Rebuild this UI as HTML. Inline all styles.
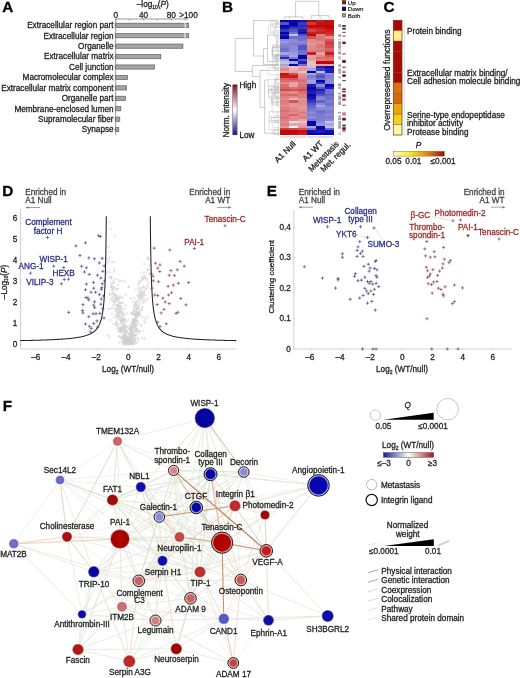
<!DOCTYPE html>
<html><head><meta charset="utf-8"><style>
html,body{margin:0;padding:0;background:#fff;}
svg{display:block;}
text{font-family:"Liberation Sans",Arial,sans-serif;stroke-width:0.28px;}
</style></head><body>
<svg width="520" height="678" viewBox="0 0 520 678">
<rect width="520" height="678" fill="#fff"/>
<text x="2.20" y="12.06" font-size="15.3" text-anchor="start" fill="#000" stroke="#000" font-weight="bold">A</text>
<text x="222.10" y="11.91" font-size="15.3" text-anchor="start" fill="#000" stroke="#000" font-weight="bold">B</text>
<text x="383.50" y="12.36" font-size="15.3" text-anchor="start" fill="#000" stroke="#000" font-weight="bold">C</text>
<text x="2.20" y="196.06" font-size="15.3" text-anchor="start" fill="#000" stroke="#000" font-weight="bold">D</text>
<text x="266.80" y="196.06" font-size="15.3" text-anchor="start" fill="#000" stroke="#000" font-weight="bold">E</text>
<text x="2.70" y="410.51" font-size="15.3" text-anchor="start" fill="#000" stroke="#000" font-weight="bold">F</text>
<text x="152.8" y="7.02" font-size="8.2" text-anchor="middle" fill="#222" stroke="#222">–log<tspan font-size="5" dy="1.5">10</tspan><tspan dy="-1.5">(</tspan><tspan font-style="italic">P</tspan>)</text>
<text x="115.70" y="17.62" font-size="8.2" text-anchor="middle" fill="#222" stroke="#222" >0</text>
<text x="143.50" y="17.62" font-size="8.2" text-anchor="middle" fill="#222" stroke="#222" >40</text>
<text x="171.30" y="17.62" font-size="8.2" text-anchor="middle" fill="#222" stroke="#222" >80</text>
<text x="188.50" y="17.62" font-size="8.2" text-anchor="middle" fill="#222" stroke="#222" >&gt;100</text>
<line x1="115.7" y1="19" x2="188" y2="19" stroke="#555" stroke-width="0.6"/>
<line x1="115.70" y1="19" x2="115.70" y2="20.5" stroke="#555" stroke-width="0.5"/>
<line x1="129.60" y1="19" x2="129.60" y2="20.5" stroke="#555" stroke-width="0.5"/>
<line x1="143.50" y1="19" x2="143.50" y2="20.5" stroke="#555" stroke-width="0.5"/>
<line x1="157.40" y1="19" x2="157.40" y2="20.5" stroke="#555" stroke-width="0.5"/>
<line x1="171.30" y1="19" x2="171.30" y2="20.5" stroke="#555" stroke-width="0.5"/>
<line x1="185.20" y1="19" x2="185.20" y2="20.5" stroke="#555" stroke-width="0.5"/>
<line x1="115.7" y1="19" x2="115.7" y2="135" stroke="#555" stroke-width="0.6"/>
<text x="113.60" y="28.12" font-size="8.2" text-anchor="end" fill="#222" stroke="#222" >Extracellular region part</text>
<rect x="115.7" y="23.20" width="73.00" height="4.2" fill="#a4a4a4" stroke="#5e5e5e" stroke-width="0.7"/>
<line x1="114.2" y1="25.30" x2="115.7" y2="25.30" stroke="#555" stroke-width="0.5"/>
<text x="113.60" y="38.55" font-size="8.2" text-anchor="end" fill="#222" stroke="#222" >Extracellular region</text>
<rect x="115.7" y="33.63" width="73.00" height="4.2" fill="#a4a4a4" stroke="#5e5e5e" stroke-width="0.7"/>
<line x1="114.2" y1="35.73" x2="115.7" y2="35.73" stroke="#555" stroke-width="0.5"/>
<text x="113.60" y="48.98" font-size="8.2" text-anchor="end" fill="#222" stroke="#222" >Organelle</text>
<rect x="115.7" y="44.06" width="67.20" height="4.2" fill="#a4a4a4" stroke="#5e5e5e" stroke-width="0.7"/>
<line x1="114.2" y1="46.16" x2="115.7" y2="46.16" stroke="#555" stroke-width="0.5"/>
<text x="113.60" y="59.41" font-size="8.2" text-anchor="end" fill="#222" stroke="#222" >Extracellular matrix</text>
<rect x="115.7" y="54.49" width="45.10" height="4.2" fill="#a4a4a4" stroke="#5e5e5e" stroke-width="0.7"/>
<line x1="114.2" y1="56.59" x2="115.7" y2="56.59" stroke="#555" stroke-width="0.5"/>
<text x="113.60" y="69.84" font-size="8.2" text-anchor="end" fill="#222" stroke="#222" >Cell junction</text>
<rect x="115.7" y="64.92" width="38.90" height="4.2" fill="#a4a4a4" stroke="#5e5e5e" stroke-width="0.7"/>
<line x1="114.2" y1="67.02" x2="115.7" y2="67.02" stroke="#555" stroke-width="0.5"/>
<text x="113.60" y="80.27" font-size="8.2" text-anchor="end" fill="#222" stroke="#222" >Macromolecular complex</text>
<rect x="115.7" y="75.35" width="11.80" height="4.2" fill="#a4a4a4" stroke="#5e5e5e" stroke-width="0.7"/>
<line x1="114.2" y1="77.45" x2="115.7" y2="77.45" stroke="#555" stroke-width="0.5"/>
<text x="113.60" y="90.70" font-size="8.2" text-anchor="end" fill="#222" stroke="#222" >Extracellular matrix component</text>
<rect x="115.7" y="85.78" width="10.80" height="4.2" fill="#a4a4a4" stroke="#5e5e5e" stroke-width="0.7"/>
<line x1="114.2" y1="87.88" x2="115.7" y2="87.88" stroke="#555" stroke-width="0.5"/>
<text x="113.60" y="101.13" font-size="8.2" text-anchor="end" fill="#222" stroke="#222" >Organelle part</text>
<rect x="115.7" y="96.21" width="9.90" height="4.2" fill="#a4a4a4" stroke="#5e5e5e" stroke-width="0.7"/>
<line x1="114.2" y1="98.31" x2="115.7" y2="98.31" stroke="#555" stroke-width="0.5"/>
<text x="113.60" y="111.56" font-size="8.2" text-anchor="end" fill="#222" stroke="#222" >Membrane-enclosed lumen</text>
<rect x="115.7" y="106.64" width="5.10" height="4.2" fill="#a4a4a4" stroke="#5e5e5e" stroke-width="0.7"/>
<line x1="114.2" y1="108.74" x2="115.7" y2="108.74" stroke="#555" stroke-width="0.5"/>
<text x="113.60" y="121.99" font-size="8.2" text-anchor="end" fill="#222" stroke="#222" >Supramolecular fiber</text>
<rect x="115.7" y="117.07" width="4.10" height="4.2" fill="#a4a4a4" stroke="#5e5e5e" stroke-width="0.7"/>
<line x1="114.2" y1="119.17" x2="115.7" y2="119.17" stroke="#555" stroke-width="0.5"/>
<text x="113.60" y="132.42" font-size="8.2" text-anchor="end" fill="#222" stroke="#222" >Synapse</text>
<rect x="115.7" y="127.50" width="3.10" height="4.2" fill="#a4a4a4" stroke="#5e5e5e" stroke-width="0.7"/>
<line x1="114.2" y1="129.60" x2="115.7" y2="129.60" stroke="#555" stroke-width="0.5"/>
<line x1="184.5" y1="22.30" x2="185.5" y2="28.30" stroke="#fff" stroke-width="0.9"/>
<line x1="184.5" y1="32.73" x2="185.5" y2="38.73" stroke="#fff" stroke-width="0.9"/>
<g shape-rendering="crispEdges">
<rect x="280.00" y="20.20" width="9.05" height="2.342" fill="#0505ac"/>
<rect x="289.00" y="20.20" width="9.05" height="2.342" fill="#0505ac"/>
<rect x="298.00" y="20.20" width="9.05" height="2.342" fill="#1111b0"/>
<rect x="307.00" y="20.20" width="9.05" height="2.342" fill="#c40505"/>
<rect x="316.00" y="20.20" width="9.05" height="2.342" fill="#c91e1e"/>
<rect x="325.00" y="20.20" width="9.05" height="2.342" fill="#c61111"/>
<rect x="280.00" y="22.49" width="9.05" height="2.342" fill="#5454c6"/>
<rect x="289.00" y="22.49" width="9.05" height="2.342" fill="#0505ac"/>
<rect x="298.00" y="22.49" width="9.05" height="2.342" fill="#3939bd"/>
<rect x="307.00" y="22.49" width="9.05" height="2.342" fill="#cf393a"/>
<rect x="316.00" y="22.49" width="9.05" height="2.342" fill="#c61111"/>
<rect x="325.00" y="22.49" width="9.05" height="2.342" fill="#c61111"/>
<rect x="280.00" y="24.78" width="9.05" height="2.342" fill="#0505ac"/>
<rect x="289.00" y="24.78" width="9.05" height="2.342" fill="#1111b0"/>
<rect x="298.00" y="24.78" width="9.05" height="2.342" fill="#2c2cb8"/>
<rect x="307.00" y="24.78" width="9.05" height="2.342" fill="#c40505"/>
<rect x="316.00" y="24.78" width="9.05" height="2.342" fill="#c40505"/>
<rect x="325.00" y="24.78" width="9.05" height="2.342" fill="#c40505"/>
<rect x="280.00" y="27.08" width="9.05" height="2.342" fill="#1111b0"/>
<rect x="289.00" y="27.08" width="9.05" height="2.342" fill="#3939bd"/>
<rect x="298.00" y="27.08" width="9.05" height="2.342" fill="#3939bd"/>
<rect x="307.00" y="27.08" width="9.05" height="2.342" fill="#c91e1e"/>
<rect x="316.00" y="27.08" width="9.05" height="2.342" fill="#c91e1e"/>
<rect x="325.00" y="27.08" width="9.05" height="2.342" fill="#c40505"/>
<rect x="280.00" y="29.37" width="9.05" height="2.342" fill="#3939bd"/>
<rect x="289.00" y="29.37" width="9.05" height="2.342" fill="#5454c6"/>
<rect x="298.00" y="29.37" width="9.05" height="2.342" fill="#1e1eb4"/>
<rect x="307.00" y="29.37" width="9.05" height="2.342" fill="#d24748"/>
<rect x="316.00" y="29.37" width="9.05" height="2.342" fill="#cc2c2c"/>
<rect x="325.00" y="29.37" width="9.05" height="2.342" fill="#c91e1e"/>
<rect x="280.00" y="31.66" width="9.05" height="2.342" fill="#0505ac"/>
<rect x="289.00" y="31.66" width="9.05" height="2.342" fill="#6f6fce"/>
<rect x="298.00" y="31.66" width="9.05" height="2.342" fill="#1111b0"/>
<rect x="307.00" y="31.66" width="9.05" height="2.342" fill="#c91e1e"/>
<rect x="316.00" y="31.66" width="9.05" height="2.342" fill="#c91e1e"/>
<rect x="325.00" y="31.66" width="9.05" height="2.342" fill="#cc2c2c"/>
<rect x="280.00" y="33.95" width="9.05" height="2.342" fill="#1e1eb4"/>
<rect x="289.00" y="33.95" width="9.05" height="2.342" fill="#c0c0e9"/>
<rect x="298.00" y="33.95" width="9.05" height="2.342" fill="#5454c6"/>
<rect x="307.00" y="33.95" width="9.05" height="2.342" fill="#c40505"/>
<rect x="316.00" y="33.95" width="9.05" height="2.342" fill="#de8284"/>
<rect x="325.00" y="33.95" width="9.05" height="2.342" fill="#d03e3f"/>
<rect x="280.00" y="36.24" width="9.05" height="2.342" fill="#0505ac"/>
<rect x="289.00" y="36.24" width="9.05" height="2.342" fill="#6f6fce"/>
<rect x="298.00" y="36.24" width="9.05" height="2.342" fill="#6f6fce"/>
<rect x="307.00" y="36.24" width="9.05" height="2.342" fill="#d45455"/>
<rect x="316.00" y="36.24" width="9.05" height="2.342" fill="#db7476"/>
<rect x="325.00" y="36.24" width="9.05" height="2.342" fill="#e18f92"/>
<rect x="280.00" y="38.54" width="9.05" height="2.342" fill="#8a8ad7"/>
<rect x="289.00" y="38.54" width="9.05" height="2.342" fill="#8a8ad7"/>
<rect x="298.00" y="38.54" width="9.05" height="2.342" fill="#6f6fce"/>
<rect x="307.00" y="38.54" width="9.05" height="2.342" fill="#e08a8c"/>
<rect x="316.00" y="38.54" width="9.05" height="2.342" fill="#db7476"/>
<rect x="325.00" y="38.54" width="9.05" height="2.342" fill="#d6595b"/>
<rect x="280.00" y="40.83" width="9.05" height="2.342" fill="#9898db"/>
<rect x="289.00" y="40.83" width="9.05" height="2.342" fill="#8a8ad7"/>
<rect x="298.00" y="40.83" width="9.05" height="2.342" fill="#8a8ad7"/>
<rect x="307.00" y="40.83" width="9.05" height="2.342" fill="#e08a8c"/>
<rect x="316.00" y="40.83" width="9.05" height="2.342" fill="#e18f92"/>
<rect x="325.00" y="40.83" width="9.05" height="2.342" fill="#d03e3f"/>
<rect x="280.00" y="43.12" width="9.05" height="2.342" fill="#8a8ad7"/>
<rect x="289.00" y="43.12" width="9.05" height="2.342" fill="#7d7dd3"/>
<rect x="298.00" y="43.12" width="9.05" height="2.342" fill="#7d7dd3"/>
<rect x="307.00" y="43.12" width="9.05" height="2.342" fill="#e2989a"/>
<rect x="316.00" y="43.12" width="9.05" height="2.342" fill="#de8284"/>
<rect x="325.00" y="43.12" width="9.05" height="2.342" fill="#d03e3f"/>
<rect x="280.00" y="45.41" width="9.05" height="2.342" fill="#7d7dd3"/>
<rect x="289.00" y="45.41" width="9.05" height="2.342" fill="#8a8ad7"/>
<rect x="298.00" y="45.41" width="9.05" height="2.342" fill="#5454c6"/>
<rect x="307.00" y="45.41" width="9.05" height="2.342" fill="#e08a8c"/>
<rect x="316.00" y="45.41" width="9.05" height="2.342" fill="#db7476"/>
<rect x="325.00" y="45.41" width="9.05" height="2.342" fill="#d34c4d"/>
<rect x="280.00" y="47.70" width="9.05" height="2.342" fill="#6f6fce"/>
<rect x="289.00" y="47.70" width="9.05" height="2.342" fill="#8a8ad7"/>
<rect x="298.00" y="47.70" width="9.05" height="2.342" fill="#5454c6"/>
<rect x="307.00" y="47.70" width="9.05" height="2.342" fill="#e08a8c"/>
<rect x="316.00" y="47.70" width="9.05" height="2.342" fill="#de8284"/>
<rect x="325.00" y="47.70" width="9.05" height="2.342" fill="#d86769"/>
<rect x="280.00" y="50.00" width="9.05" height="2.342" fill="#6f6fce"/>
<rect x="289.00" y="50.00" width="9.05" height="2.342" fill="#8a8ad7"/>
<rect x="298.00" y="50.00" width="9.05" height="2.342" fill="#6f6fce"/>
<rect x="307.00" y="50.00" width="9.05" height="2.342" fill="#dd7d7f"/>
<rect x="316.00" y="50.00" width="9.05" height="2.342" fill="#db7476"/>
<rect x="325.00" y="50.00" width="9.05" height="2.342" fill="#d6595b"/>
<rect x="280.00" y="52.29" width="9.05" height="2.342" fill="#a5a5e0"/>
<rect x="289.00" y="52.29" width="9.05" height="2.342" fill="#9898db"/>
<rect x="298.00" y="52.29" width="9.05" height="2.342" fill="#6f6fce"/>
<rect x="307.00" y="52.29" width="9.05" height="2.342" fill="#c91e1e"/>
<rect x="316.00" y="52.29" width="9.05" height="2.342" fill="#e5a5a8"/>
<rect x="325.00" y="52.29" width="9.05" height="2.342" fill="#c91e1e"/>
<rect x="280.00" y="54.58" width="9.05" height="2.342" fill="#6f6fce"/>
<rect x="289.00" y="54.58" width="9.05" height="2.342" fill="#a5a5e0"/>
<rect x="298.00" y="54.58" width="9.05" height="2.342" fill="#0505ac"/>
<rect x="307.00" y="54.58" width="9.05" height="2.342" fill="#e5a5a8"/>
<rect x="316.00" y="54.58" width="9.05" height="2.342" fill="#e08a8c"/>
<rect x="325.00" y="54.58" width="9.05" height="2.342" fill="#d45455"/>
<rect x="280.00" y="56.87" width="9.05" height="2.342" fill="#2c2cb8"/>
<rect x="289.00" y="56.87" width="9.05" height="2.342" fill="#7d7dd3"/>
<rect x="298.00" y="56.87" width="9.05" height="2.342" fill="#0505ac"/>
<rect x="307.00" y="56.87" width="9.05" height="2.342" fill="#e2989a"/>
<rect x="316.00" y="56.87" width="9.05" height="2.342" fill="#da6f71"/>
<rect x="325.00" y="56.87" width="9.05" height="2.342" fill="#da6f71"/>
<rect x="280.00" y="59.16" width="9.05" height="2.342" fill="#a5a5e0"/>
<rect x="289.00" y="59.16" width="9.05" height="2.342" fill="#0505ac"/>
<rect x="298.00" y="59.16" width="9.05" height="2.342" fill="#5454c6"/>
<rect x="307.00" y="59.16" width="9.05" height="2.342" fill="#e5a5a8"/>
<rect x="316.00" y="59.16" width="9.05" height="2.342" fill="#dd7d7f"/>
<rect x="325.00" y="59.16" width="9.05" height="2.342" fill="#da6f71"/>
<rect x="280.00" y="61.46" width="9.05" height="2.342" fill="#c0c0e9"/>
<rect x="289.00" y="61.46" width="9.05" height="2.342" fill="#a5a5e0"/>
<rect x="298.00" y="61.46" width="9.05" height="2.342" fill="#1e1eb4"/>
<rect x="307.00" y="61.46" width="9.05" height="2.342" fill="#ebc0c3"/>
<rect x="316.00" y="61.46" width="9.05" height="2.342" fill="#c40505"/>
<rect x="325.00" y="61.46" width="9.05" height="2.342" fill="#c40505"/>
<rect x="280.00" y="63.75" width="9.05" height="2.342" fill="#a5a5e0"/>
<rect x="289.00" y="63.75" width="9.05" height="2.342" fill="#0505ac"/>
<rect x="298.00" y="63.75" width="9.05" height="2.342" fill="#6f6fce"/>
<rect x="307.00" y="63.75" width="9.05" height="2.342" fill="#ebc0c3"/>
<rect x="316.00" y="63.75" width="9.05" height="2.342" fill="#e5a5a8"/>
<rect x="325.00" y="63.75" width="9.05" height="2.342" fill="#e5a5a8"/>
<rect x="280.00" y="66.04" width="9.05" height="2.342" fill="#e5a5a8"/>
<rect x="289.00" y="66.04" width="9.05" height="2.342" fill="#ebc0c3"/>
<rect x="298.00" y="66.04" width="9.05" height="2.342" fill="#e5a5a8"/>
<rect x="307.00" y="66.04" width="9.05" height="2.342" fill="#c0c0e9"/>
<rect x="316.00" y="66.04" width="9.05" height="2.342" fill="#1e1eb4"/>
<rect x="325.00" y="66.04" width="9.05" height="2.342" fill="#0505ac"/>
<rect x="280.00" y="68.33" width="9.05" height="2.342" fill="#e08a8c"/>
<rect x="289.00" y="68.33" width="9.05" height="2.342" fill="#e8b3b5"/>
<rect x="298.00" y="68.33" width="9.05" height="2.342" fill="#e2989a"/>
<rect x="307.00" y="68.33" width="9.05" height="2.342" fill="#a5a5e0"/>
<rect x="316.00" y="68.33" width="9.05" height="2.342" fill="#3939bd"/>
<rect x="325.00" y="68.33" width="9.05" height="2.342" fill="#1e1eb4"/>
<rect x="280.00" y="70.62" width="9.05" height="2.342" fill="#e5a5a8"/>
<rect x="289.00" y="70.62" width="9.05" height="2.342" fill="#e5a5a8"/>
<rect x="298.00" y="70.62" width="9.05" height="2.342" fill="#ebc0c3"/>
<rect x="307.00" y="70.62" width="9.05" height="2.342" fill="#0505ac"/>
<rect x="316.00" y="70.62" width="9.05" height="2.342" fill="#c0c0e9"/>
<rect x="325.00" y="70.62" width="9.05" height="2.342" fill="#1e1eb4"/>
<rect x="280.00" y="72.92" width="9.05" height="2.342" fill="#c61111"/>
<rect x="289.00" y="72.92" width="9.05" height="2.342" fill="#d45455"/>
<rect x="298.00" y="72.92" width="9.05" height="2.342" fill="#e2989a"/>
<rect x="307.00" y="72.92" width="9.05" height="2.342" fill="#a5a5e0"/>
<rect x="316.00" y="72.92" width="9.05" height="2.342" fill="#6f6fce"/>
<rect x="325.00" y="72.92" width="9.05" height="2.342" fill="#8a8ad7"/>
<rect x="280.00" y="75.21" width="9.05" height="2.342" fill="#c91e1e"/>
<rect x="289.00" y="75.21" width="9.05" height="2.342" fill="#c91e1e"/>
<rect x="298.00" y="75.21" width="9.05" height="2.342" fill="#e08a8c"/>
<rect x="307.00" y="75.21" width="9.05" height="2.342" fill="#7d7dd3"/>
<rect x="316.00" y="75.21" width="9.05" height="2.342" fill="#5454c6"/>
<rect x="325.00" y="75.21" width="9.05" height="2.342" fill="#7d7dd3"/>
<rect x="280.00" y="77.50" width="9.05" height="2.342" fill="#d76263"/>
<rect x="289.00" y="77.50" width="9.05" height="2.342" fill="#d45455"/>
<rect x="298.00" y="77.50" width="9.05" height="2.342" fill="#dd7d7f"/>
<rect x="307.00" y="77.50" width="9.05" height="2.342" fill="#8a8ad7"/>
<rect x="316.00" y="77.50" width="9.05" height="2.342" fill="#6f6fce"/>
<rect x="325.00" y="77.50" width="9.05" height="2.342" fill="#8a8ad7"/>
<rect x="280.00" y="79.79" width="9.05" height="2.342" fill="#da6f71"/>
<rect x="289.00" y="79.79" width="9.05" height="2.342" fill="#da6f71"/>
<rect x="298.00" y="79.79" width="9.05" height="2.342" fill="#da6f71"/>
<rect x="307.00" y="79.79" width="9.05" height="2.342" fill="#a5a5e0"/>
<rect x="316.00" y="79.79" width="9.05" height="2.342" fill="#0505ac"/>
<rect x="325.00" y="79.79" width="9.05" height="2.342" fill="#8a8ad7"/>
<rect x="280.00" y="82.08" width="9.05" height="2.342" fill="#e08a8c"/>
<rect x="289.00" y="82.08" width="9.05" height="2.342" fill="#e5a5a8"/>
<rect x="298.00" y="82.08" width="9.05" height="2.342" fill="#dd7d7f"/>
<rect x="307.00" y="82.08" width="9.05" height="2.342" fill="#9898db"/>
<rect x="316.00" y="82.08" width="9.05" height="2.342" fill="#2c2cb8"/>
<rect x="325.00" y="82.08" width="9.05" height="2.342" fill="#8a8ad7"/>
<rect x="280.00" y="84.38" width="9.05" height="2.342" fill="#da6f71"/>
<rect x="289.00" y="84.38" width="9.05" height="2.342" fill="#e5a5a8"/>
<rect x="298.00" y="84.38" width="9.05" height="2.342" fill="#da6f71"/>
<rect x="307.00" y="84.38" width="9.05" height="2.342" fill="#1e1eb4"/>
<rect x="316.00" y="84.38" width="9.05" height="2.342" fill="#8a8ad7"/>
<rect x="325.00" y="84.38" width="9.05" height="2.342" fill="#0505ac"/>
<rect x="280.00" y="86.67" width="9.05" height="2.342" fill="#d76263"/>
<rect x="289.00" y="86.67" width="9.05" height="2.342" fill="#da6f71"/>
<rect x="298.00" y="86.67" width="9.05" height="2.342" fill="#d76263"/>
<rect x="307.00" y="86.67" width="9.05" height="2.342" fill="#0505ac"/>
<rect x="316.00" y="86.67" width="9.05" height="2.342" fill="#5454c6"/>
<rect x="325.00" y="86.67" width="9.05" height="2.342" fill="#1e1eb4"/>
<rect x="280.00" y="88.96" width="9.05" height="2.342" fill="#d24748"/>
<rect x="289.00" y="88.96" width="9.05" height="2.342" fill="#d45455"/>
<rect x="298.00" y="88.96" width="9.05" height="2.342" fill="#d24748"/>
<rect x="307.00" y="88.96" width="9.05" height="2.342" fill="#1111b0"/>
<rect x="316.00" y="88.96" width="9.05" height="2.342" fill="#1e1eb4"/>
<rect x="325.00" y="88.96" width="9.05" height="2.342" fill="#6f6fce"/>
<rect x="280.00" y="91.25" width="9.05" height="2.342" fill="#dd7d7f"/>
<rect x="289.00" y="91.25" width="9.05" height="2.342" fill="#e08a8c"/>
<rect x="298.00" y="91.25" width="9.05" height="2.342" fill="#da6f71"/>
<rect x="307.00" y="91.25" width="9.05" height="2.342" fill="#1e1eb4"/>
<rect x="316.00" y="91.25" width="9.05" height="2.342" fill="#3939bd"/>
<rect x="325.00" y="91.25" width="9.05" height="2.342" fill="#6f6fce"/>
<rect x="280.00" y="93.54" width="9.05" height="2.342" fill="#da6f71"/>
<rect x="289.00" y="93.54" width="9.05" height="2.342" fill="#d76263"/>
<rect x="298.00" y="93.54" width="9.05" height="2.342" fill="#dd7d7f"/>
<rect x="307.00" y="93.54" width="9.05" height="2.342" fill="#0505ac"/>
<rect x="316.00" y="93.54" width="9.05" height="2.342" fill="#5454c6"/>
<rect x="325.00" y="93.54" width="9.05" height="2.342" fill="#6262ca"/>
<rect x="280.00" y="95.84" width="9.05" height="2.342" fill="#dd7d7f"/>
<rect x="289.00" y="95.84" width="9.05" height="2.342" fill="#e08a8c"/>
<rect x="298.00" y="95.84" width="9.05" height="2.342" fill="#dd7d7f"/>
<rect x="307.00" y="95.84" width="9.05" height="2.342" fill="#1111b0"/>
<rect x="316.00" y="95.84" width="9.05" height="2.342" fill="#7d7dd3"/>
<rect x="325.00" y="95.84" width="9.05" height="2.342" fill="#6f6fce"/>
<rect x="280.00" y="98.13" width="9.05" height="2.342" fill="#e08a8c"/>
<rect x="289.00" y="98.13" width="9.05" height="2.342" fill="#e8b3b5"/>
<rect x="298.00" y="98.13" width="9.05" height="2.342" fill="#e2989a"/>
<rect x="307.00" y="98.13" width="9.05" height="2.342" fill="#1e1eb4"/>
<rect x="316.00" y="98.13" width="9.05" height="2.342" fill="#8a8ad7"/>
<rect x="325.00" y="98.13" width="9.05" height="2.342" fill="#6f6fce"/>
<rect x="280.00" y="100.42" width="9.05" height="2.342" fill="#dd7d7f"/>
<rect x="289.00" y="100.42" width="9.05" height="2.342" fill="#d45455"/>
<rect x="298.00" y="100.42" width="9.05" height="2.342" fill="#e08a8c"/>
<rect x="307.00" y="100.42" width="9.05" height="2.342" fill="#3939bd"/>
<rect x="316.00" y="100.42" width="9.05" height="2.342" fill="#6262ca"/>
<rect x="325.00" y="100.42" width="9.05" height="2.342" fill="#7d7dd3"/>
<rect x="280.00" y="102.71" width="9.05" height="2.342" fill="#dd7d7f"/>
<rect x="289.00" y="102.71" width="9.05" height="2.342" fill="#e2989a"/>
<rect x="298.00" y="102.71" width="9.05" height="2.342" fill="#e08a8c"/>
<rect x="307.00" y="102.71" width="9.05" height="2.342" fill="#5454c6"/>
<rect x="316.00" y="102.71" width="9.05" height="2.342" fill="#8a8ad7"/>
<rect x="325.00" y="102.71" width="9.05" height="2.342" fill="#6f6fce"/>
<rect x="280.00" y="105.00" width="9.05" height="2.342" fill="#e08a8c"/>
<rect x="289.00" y="105.00" width="9.05" height="2.342" fill="#e2989a"/>
<rect x="298.00" y="105.00" width="9.05" height="2.342" fill="#e2989a"/>
<rect x="307.00" y="105.00" width="9.05" height="2.342" fill="#6262ca"/>
<rect x="316.00" y="105.00" width="9.05" height="2.342" fill="#a5a5e0"/>
<rect x="325.00" y="105.00" width="9.05" height="2.342" fill="#7d7dd3"/>
<rect x="280.00" y="107.30" width="9.05" height="2.342" fill="#dd7d7f"/>
<rect x="289.00" y="107.30" width="9.05" height="2.342" fill="#e08a8c"/>
<rect x="298.00" y="107.30" width="9.05" height="2.342" fill="#e2989a"/>
<rect x="307.00" y="107.30" width="9.05" height="2.342" fill="#6f6fce"/>
<rect x="316.00" y="107.30" width="9.05" height="2.342" fill="#8a8ad7"/>
<rect x="325.00" y="107.30" width="9.05" height="2.342" fill="#8a8ad7"/>
<rect x="280.00" y="109.59" width="9.05" height="2.342" fill="#da6f71"/>
<rect x="289.00" y="109.59" width="9.05" height="2.342" fill="#dd7d7f"/>
<rect x="298.00" y="109.59" width="9.05" height="2.342" fill="#e08a8c"/>
<rect x="307.00" y="109.59" width="9.05" height="2.342" fill="#7d7dd3"/>
<rect x="316.00" y="109.59" width="9.05" height="2.342" fill="#6f6fce"/>
<rect x="325.00" y="109.59" width="9.05" height="2.342" fill="#7d7dd3"/>
<rect x="280.00" y="111.88" width="9.05" height="2.342" fill="#dd7d7f"/>
<rect x="289.00" y="111.88" width="9.05" height="2.342" fill="#e08a8c"/>
<rect x="298.00" y="111.88" width="9.05" height="2.342" fill="#dd7d7f"/>
<rect x="307.00" y="111.88" width="9.05" height="2.342" fill="#8a8ad7"/>
<rect x="316.00" y="111.88" width="9.05" height="2.342" fill="#6f6fce"/>
<rect x="325.00" y="111.88" width="9.05" height="2.342" fill="#7d7dd3"/>
<rect x="280.00" y="114.17" width="9.05" height="2.342" fill="#dd7d7f"/>
<rect x="289.00" y="114.17" width="9.05" height="2.342" fill="#d76263"/>
<rect x="298.00" y="114.17" width="9.05" height="2.342" fill="#e08a8c"/>
<rect x="307.00" y="114.17" width="9.05" height="2.342" fill="#7d7dd3"/>
<rect x="316.00" y="114.17" width="9.05" height="2.342" fill="#7d7dd3"/>
<rect x="325.00" y="114.17" width="9.05" height="2.342" fill="#8a8ad7"/>
<rect x="280.00" y="116.46" width="9.05" height="2.342" fill="#da6f71"/>
<rect x="289.00" y="116.46" width="9.05" height="2.342" fill="#e08a8c"/>
<rect x="298.00" y="116.46" width="9.05" height="2.342" fill="#dd7d7f"/>
<rect x="307.00" y="116.46" width="9.05" height="2.342" fill="#8a8ad7"/>
<rect x="316.00" y="116.46" width="9.05" height="2.342" fill="#7d7dd3"/>
<rect x="325.00" y="116.46" width="9.05" height="2.342" fill="#7d7dd3"/>
<rect x="280.00" y="118.76" width="9.05" height="2.342" fill="#dd7d7f"/>
<rect x="289.00" y="118.76" width="9.05" height="2.342" fill="#e08a8c"/>
<rect x="298.00" y="118.76" width="9.05" height="2.342" fill="#e5a5a8"/>
<rect x="307.00" y="118.76" width="9.05" height="2.342" fill="#6f6fce"/>
<rect x="316.00" y="118.76" width="9.05" height="2.342" fill="#7d7dd3"/>
<rect x="325.00" y="118.76" width="9.05" height="2.342" fill="#8a8ad7"/>
<rect x="280.00" y="121.05" width="9.05" height="2.342" fill="#e08a8c"/>
<rect x="289.00" y="121.05" width="9.05" height="2.342" fill="#f0dbdf"/>
<rect x="298.00" y="121.05" width="9.05" height="2.342" fill="#ebc0c3"/>
<rect x="307.00" y="121.05" width="9.05" height="2.342" fill="#0505ac"/>
<rect x="316.00" y="121.05" width="9.05" height="2.342" fill="#8a8ad7"/>
<rect x="325.00" y="121.05" width="9.05" height="2.342" fill="#c0c0e9"/>
<rect x="280.00" y="123.34" width="9.05" height="2.342" fill="#dd7d7f"/>
<rect x="289.00" y="123.34" width="9.05" height="2.342" fill="#e5a5a8"/>
<rect x="298.00" y="123.34" width="9.05" height="2.342" fill="#e5a5a8"/>
<rect x="307.00" y="123.34" width="9.05" height="2.342" fill="#0505ac"/>
<rect x="316.00" y="123.34" width="9.05" height="2.342" fill="#9898db"/>
<rect x="325.00" y="123.34" width="9.05" height="2.342" fill="#a5a5e0"/>
<rect x="280.00" y="125.63" width="9.05" height="2.342" fill="#e2989a"/>
<rect x="289.00" y="125.63" width="9.05" height="2.342" fill="#f6f6fa"/>
<rect x="298.00" y="125.63" width="9.05" height="2.342" fill="#e2989a"/>
<rect x="307.00" y="125.63" width="9.05" height="2.342" fill="#a5a5e0"/>
<rect x="316.00" y="125.63" width="9.05" height="2.342" fill="#0505ac"/>
<rect x="325.00" y="125.63" width="9.05" height="2.342" fill="#c0c0e9"/>
<rect x="280.00" y="127.92" width="9.05" height="2.342" fill="#cf393a"/>
<rect x="289.00" y="127.92" width="9.05" height="2.342" fill="#d24748"/>
<rect x="298.00" y="127.92" width="9.05" height="2.342" fill="#d45455"/>
<rect x="307.00" y="127.92" width="9.05" height="2.342" fill="#6f6fce"/>
<rect x="316.00" y="127.92" width="9.05" height="2.342" fill="#0505ac"/>
<rect x="325.00" y="127.92" width="9.05" height="2.342" fill="#6262ca"/>
<rect x="280.00" y="130.22" width="9.05" height="2.342" fill="#c40505"/>
<rect x="289.00" y="130.22" width="9.05" height="2.342" fill="#c40505"/>
<rect x="298.00" y="130.22" width="9.05" height="2.342" fill="#c61111"/>
<rect x="307.00" y="130.22" width="9.05" height="2.342" fill="#1111b0"/>
<rect x="316.00" y="130.22" width="9.05" height="2.342" fill="#1e1eb4"/>
<rect x="325.00" y="130.22" width="9.05" height="2.342" fill="#1111b0"/>
<rect x="280.00" y="132.51" width="9.05" height="2.342" fill="#c40505"/>
<rect x="289.00" y="132.51" width="9.05" height="2.342" fill="#c61111"/>
<rect x="298.00" y="132.51" width="9.05" height="2.342" fill="#c91e1e"/>
<rect x="307.00" y="132.51" width="9.05" height="2.342" fill="#0505ac"/>
<rect x="316.00" y="132.51" width="9.05" height="2.342" fill="#0505ac"/>
<rect x="325.00" y="132.51" width="9.05" height="2.342" fill="#0505ac"/>
</g>
<path d="M295.6,16.9 V1.3 H318.8 V15.6 M284.5,18.9 V16.9 H302.5 V18.9 M289.5,16.9 V18.9 M311.3,18.9 V15.6 H329 V18.9 M320,15.6 V18.9" stroke="#9a9a9a" stroke-width="0.5" fill="none"/>
<path d="M253.5,38.5 H235.2 V71.5 H252.3 M253.5,20.5 V56 M253.5,20.5 H278 M253.5,56 H263.5 M263.5,48.5 V64.5 M263.5,48.5 H267.5 M267.5,35 V61.5 M263.5,64.5 H279 M252.3,65.5 V76.5 M252.3,65.5 H279 M252.3,76.5 H260.1 M260.1,70.5 V107.6 M260.1,70.5 H279 M260.1,107.6 H264.6 M264.6,80 V133.3 M264.6,80 H268.6 M264.6,133.3 H279" stroke="#9a9a9a" stroke-width="0.5" fill="none"/>
<path d="M271.9,47.3 V54.3 M271.9,47.3 H279.5 M271.9,54.3 H279.5 M268.7,89.0 V96.9 M268.7,89.0 H279.5 M268.7,96.9 H279.5 M270.7,21.7 V31.9 M270.7,21.7 H279.5 M270.7,31.9 H279.5 M272.9,46.9 V58.9 M272.9,46.9 H279.5 M272.9,58.9 H279.5 M274.7,115.6 V121.8 M274.7,115.6 H279.5 M274.7,121.8 H279.5 M277.1,37.4 V45.4 M277.1,37.4 H279.5 M277.1,45.4 H279.5 M275.0,79.8 V89.0 M275.0,79.8 H279.5 M275.0,89.0 H279.5 M274.2,27.5 V36.8 M274.2,27.5 H279.5 M274.2,36.8 H279.5 M277.1,54.5 V55.9 M277.1,54.5 H279.5 M277.1,55.9 H279.5 M277.2,74.1 V83.0 M277.2,74.1 H279.5 M277.2,83.0 H279.5 M272.1,101.6 V112.7 M272.1,101.6 H279.5 M272.1,112.7 H279.5 M277.8,111.5 V117.4 M277.8,111.5 H279.5 M277.8,117.4 H279.5 M269.4,120.4 V122.5 M269.4,120.4 H279.5 M269.4,122.5 H279.5 M272.6,44.9 V56.6 M272.6,44.9 H279.5 M272.6,56.6 H279.5 M273.3,91.6 V95.9 M273.3,91.6 H279.5 M273.3,95.9 H279.5 M274.1,64.2 V69.0 M274.1,64.2 H279.5 M274.1,69.0 H279.5 M275.2,86.8 V97.8 M275.2,86.8 H279.5 M275.2,97.8 H279.5 M278.4,126.1 V134.6 M278.4,126.1 H279.5 M278.4,134.6 H279.5 M277.0,96.7 V99.5 M277.0,96.7 H279.5 M277.0,99.5 H279.5 M274.0,130.2 V134.6 M274.0,130.2 H279.5 M274.0,134.6 H279.5 M276.7,101.6 V104.9 M276.7,101.6 H279.5 M276.7,104.9 H279.5 M268.7,85.6 V89.7 M268.7,85.6 H279.5 M268.7,89.7 H279.5 M268.9,117.5 V129.4 M268.9,117.5 H279.5 M268.9,129.4 H279.5 M269.6,111.5 V117.0 M269.6,111.5 H279.5 M269.6,117.0 H279.5 M277.2,53.7 V63.2 M277.2,53.7 H279.5 M277.2,63.2 H279.5 M268.5,25.2 V33.0 M268.5,25.2 H279.5 M268.5,33.0 H279.5 M277.2,102.1 V106.7 M277.2,102.1 H279.5 M277.2,106.7 H279.5 M278.5,132.0 V134.6 M278.5,132.0 H279.5 M278.5,134.6 H279.5 M274.3,55.5 V57.3 M274.3,55.5 H279.5 M274.3,57.3 H279.5 M272.3,23.8 V26.9 M272.3,23.8 H279.5 M272.3,26.9 H279.5 M268.4,89.8 V92.5 M268.4,89.8 H279.5 M268.4,92.5 H279.5 M278.1,119.1 V123.6 M278.1,119.1 H279.5 M278.1,123.6 H279.5 M272.8,122.4 V127.6 M272.8,122.4 H279.5 M272.8,127.6 H279.5 M274.3,79.5 V87.6 M274.3,79.5 H279.5 M274.3,87.6 H279.5 M277.9,84.0 V91.8 M277.9,84.0 H279.5 M277.9,91.8 H279.5 M275.6,78.0 V83.7 M275.6,78.0 H279.5 M275.6,83.7 H279.5 M278.3,47.3 V51.6 M278.3,47.3 H279.5 M278.3,51.6 H279.5 M268.1,79.6 V86.6 M268.1,79.6 H279.5 M268.1,86.6 H279.5 M268.2,67.5 V74.9 M268.2,67.5 H279.5 M268.2,74.9 H279.5 M268.6,90.4 V98.4 M268.6,90.4 H279.5 M268.6,98.4 H279.5 M275.1,91.7 V97.8 M275.1,91.7 H279.5 M275.1,97.8 H279.5 M275.7,60.4 V69.2 M275.7,60.4 H279.5 M275.7,69.2 H279.5 M275.1,22.7 V24.4 M275.1,22.7 H279.5 M275.1,24.4 H279.5 M272.8,130.0 V133.8 M272.8,130.0 H279.5 M272.8,133.8 H279.5 M271.8,87.8 V92.3 M271.8,87.8 H279.5 M271.8,92.3 H279.5 M274.3,55.8 V60.9 M274.3,55.8 H279.5 M274.3,60.9 H279.5 M276.1,54.4 V59.6 M276.1,54.4 H279.5 M276.1,59.6 H279.5 M275.7,23.3 V30.5 M275.7,23.3 H279.5 M275.7,30.5 H279.5 M276.4,55.5 V59.0 M276.4,55.5 H279.5 M276.4,59.0 H279.5 M272.6,47.4 V50.5 M272.6,47.4 H279.5 M272.6,50.5 H279.5 M271.4,99.8 V101.9 M271.4,99.8 H279.5 M271.4,101.9 H279.5 M272.6,58.2 V68.4 M272.6,58.2 H279.5 M272.6,68.4 H279.5 M271.5,117.7 V120.6 M271.5,117.7 H279.5 M271.5,120.6 H279.5 M272.7,94.3 V105.1 M272.7,94.3 H279.5 M272.7,105.1 H279.5 M273.6,45.9 V48.2 M273.6,45.9 H279.5 M273.6,48.2 H279.5 M276.8,42.0 V51.8 M276.8,42.0 H279.5 M276.8,51.8 H279.5 M276.5,41.1 V45.2 M276.5,41.1 H279.5 M276.5,45.2 H279.5 M271.6,93.4 V103.2 M271.6,93.4 H279.5 M271.6,103.2 H279.5 M276.3,35.0 V39.2 M276.3,35.0 H279.5 M276.3,39.2 H279.5 M272.4,51.1 V55.9 M272.4,51.1 H279.5 M272.4,55.9 H279.5" stroke="#b4b4b4" stroke-width="0.4" fill="none"/>
<path d="M267.5,35 H279 M267.5,61.5 H279" stroke="#9a9a9a" stroke-width="0.5" fill="none"/>
<defs><linearGradient id="gNI" x1="0" y1="0" x2="0" y2="1"><stop offset="0" stop-color="#8c0a14"/><stop offset="0.5" stop-color="#ffffff"/><stop offset="1" stop-color="#14148c"/></linearGradient><linearGradient id="gP" x1="0" y1="0" x2="1" y2="0"><stop offset="0" stop-color="#fffbd0"/><stop offset="0.35" stop-color="#f6e81a"/><stop offset="0.7" stop-color="#e07810"/><stop offset="1" stop-color="#9a0808"/></linearGradient><linearGradient id="gL" x1="0" y1="0" x2="1" y2="0"><stop offset="0" stop-color="#1a1a9c"/><stop offset="0.5" stop-color="#ffffff"/><stop offset="1" stop-color="#a01a1a"/></linearGradient></defs>
<rect x="232.8" y="84.8" width="4.3" height="50.1" fill="url(#gNI)" stroke="#333" stroke-width="0.4"/>
<text x="239.40" y="88.42" font-size="8.2" text-anchor="start" fill="#222" stroke="#222" >High</text>
<text x="239.40" y="138.02" font-size="8.2" text-anchor="start" fill="#222" stroke="#222" >Low</text>
<text transform="translate(229.22,110.1) rotate(-90)" font-size="8.2" text-anchor="middle" fill="#222" stroke="#222">Norm. intensity</text>
<rect x="342.0" y="0.2" width="4" height="4.2" fill="#6a2a22"/>
<rect x="342.0" y="6.7" width="4" height="4.2" fill="#12124e"/>
<rect x="342.0" y="13.2" width="4" height="4.2" fill="#857868"/>
<rect x="343.2" y="14.4" width="1.6" height="1.8" fill="#b0a898"/>
<text x="347.80" y="4.50" font-size="6.1" text-anchor="start" fill="#222" stroke="#222" style="stroke-width:0.2px">Up</text>
<text x="347.80" y="11.00" font-size="6.1" text-anchor="start" fill="#222" stroke="#222" style="stroke-width:0.2px">Down</text>
<text x="347.80" y="17.50" font-size="6.1" text-anchor="start" fill="#222" stroke="#222" style="stroke-width:0.2px">Both</text>
<rect x="338.2" y="24.2" width="2.8" height="2.8" fill="#a0a4a0"/>
<rect x="338.2" y="34.1" width="2.8" height="2.8" fill="#a8a8a8"/>
<rect x="338.2" y="38.9" width="2.8" height="1.2" fill="#c0c0c0"/>
<rect x="338.2" y="41.3" width="2.8" height="3.5" fill="#a0a4a0"/>
<rect x="338.2" y="45.1" width="2.8" height="3.5" fill="#a8a8a8"/>
<rect x="338.2" y="49.1" width="2.8" height="1.6" fill="#c0c0c0"/>
<rect x="338.2" y="51.5" width="2.8" height="2.8" fill="#9c9c9c"/>
<rect x="338.2" y="56.3" width="2.8" height="1.6" fill="#c0c0c0"/>
<rect x="338.2" y="58.2" width="2.8" height="1.2" fill="#b4b4b4"/>
<rect x="338.2" y="64.4" width="2.8" height="2.2" fill="#9c9c9c"/>
<rect x="338.2" y="68.6" width="2.8" height="2.2" fill="#a0a4a0"/>
<rect x="338.2" y="71.1" width="2.8" height="2.8" fill="#b4b4b4"/>
<rect x="338.2" y="76.6" width="2.8" height="1.6" fill="#a8a8a8"/>
<rect x="338.2" y="83.4" width="2.8" height="2.8" fill="#9c9c9c"/>
<rect x="338.2" y="87.0" width="2.8" height="2.2" fill="#b4b4b4"/>
<rect x="338.2" y="92.6" width="2.8" height="1.6" fill="#a8a8a8"/>
<rect x="338.2" y="94.5" width="2.8" height="1.2" fill="#c0c0c0"/>
<rect x="338.2" y="96.2" width="2.8" height="3.5" fill="#a0a4a0"/>
<rect x="338.2" y="100.2" width="2.8" height="1.6" fill="#c0c0c0"/>
<rect x="338.2" y="102.1" width="2.8" height="2.8" fill="#9c9c9c"/>
<rect x="338.2" y="111.9" width="2.8" height="1.6" fill="#a0a4a0"/>
<rect x="338.2" y="115.5" width="2.8" height="1.2" fill="#9c9c9c"/>
<rect x="338.2" y="117.2" width="2.8" height="2.8" fill="#a0a4a0"/>
<rect x="338.2" y="120.8" width="2.8" height="2.2" fill="#a8a8a8"/>
<rect x="338.2" y="123.3" width="2.8" height="1.6" fill="#9c9c9c"/>
<rect x="338.2" y="125.2" width="2.8" height="3.5" fill="#a0a4a0"/>
<rect x="338.2" y="132.7" width="2.8" height="2.1" fill="#c0c0c0"/>
<rect x="342.3" y="91.1" width="3.4" height="1.3" fill="#8a1020"/>
<rect x="342.3" y="112.6" width="3.4" height="1" fill="#a02030"/>
<rect x="342.3" y="41.6" width="3.4" height="2.4" fill="#8a1020"/>
<rect x="342.3" y="97.8" width="3.4" height="1.8" fill="#c08090"/>
<rect x="342.3" y="88.4" width="3.4" height="1.8" fill="#7a1020"/>
<rect x="342.3" y="31.9" width="3.4" height="0.8" fill="#401030"/>
<rect x="342.3" y="129.0" width="3.4" height="1" fill="#a02030"/>
<rect x="342.3" y="99.8" width="3.4" height="1.3" fill="#c08090"/>
<rect x="342.3" y="113.3" width="3.4" height="2.4" fill="#c08090"/>
<rect x="342.3" y="53.4" width="3.4" height="1" fill="#a02030"/>
<rect x="342.3" y="130.6" width="3.4" height="1" fill="#8a1020"/>
<rect x="342.3" y="74.4" width="3.4" height="2.4" fill="#401030"/>
<rect x="342.3" y="28.6" width="3.4" height="1" fill="#8a1020"/>
<rect x="342.3" y="104.8" width="3.4" height="0.8" fill="#2a2a6a"/>
<rect x="342.3" y="66.7" width="3.4" height="1" fill="#7a1020"/>
<rect x="342.3" y="25.5" width="3.4" height="1.3" fill="#2a2a6a"/>
<rect x="342.3" y="80.2" width="3.4" height="1" fill="#7a1020"/>
<rect x="342.3" y="61.1" width="3.4" height="1.8" fill="#2a2a6a"/>
<rect x="342.3" y="94.4" width="3.4" height="2.4" fill="#401030"/>
<rect x="342.3" y="127.2" width="3.4" height="2.4" fill="#7a1020"/>
<rect x="342.3" y="124.6" width="3.4" height="1.8" fill="#2a2a6a"/>
<rect x="342.3" y="99.4" width="3.4" height="0.8" fill="#7a1020"/>
<rect x="342.3" y="87.8" width="3.4" height="0.8" fill="#c08090"/>
<rect x="342.3" y="27.8" width="3.4" height="1.3" fill="#2a2a6a"/>
<rect x="342.3" y="35.6" width="3.4" height="0.8" fill="#7a1020"/>
<rect x="342.3" y="71.4" width="3.4" height="1.3" fill="#a02030"/>
<rect x="342.3" y="25.2" width="3.4" height="1" fill="#2a2a6a"/>
<rect x="342.3" y="60.0" width="3.4" height="1.8" fill="#7a1020"/>
<rect x="342.3" y="118.6" width="3.4" height="1.8" fill="#7a1020"/>
<rect x="342.3" y="117.8" width="3.4" height="2.4" fill="#7a1020"/>
<path d="M280.5,137 H306 M307.5,137 H333.5" stroke="#999" stroke-width="0.6"/>
<text transform="translate(292.4,140.5) rotate(-45)" font-size="8.2" text-anchor="end" fill="#222" stroke="#222" dy="5.6">A1 Null</text>
<text transform="translate(319.5,140.3) rotate(-45)" font-size="8.2" text-anchor="end" fill="#222" stroke="#222" dy="5.6">A1 WT</text>
<text transform="translate(335.4,140.6) rotate(-45)" font-size="8.2" text-anchor="end" fill="#222" stroke="#222" dy="5.6">Metastasis</text>
<text transform="translate(347.1,141.3) rotate(-45)" font-size="8.2" text-anchor="end" fill="#222" stroke="#222" dy="5.6">Met. regul.</text>
<rect x="393.2" y="20.20" width="8.8" height="10.44" fill="#a80808" stroke="#6a3a10" stroke-width="0.35"/>
<rect x="393.2" y="30.64" width="8.8" height="10.44" fill="#fbf08a" stroke="#6a3a10" stroke-width="0.35"/>
<rect x="393.2" y="41.07" width="8.8" height="10.44" fill="#a80808" stroke="#6a3a10" stroke-width="0.35"/>
<rect x="393.2" y="51.51" width="8.8" height="10.44" fill="#a80808" stroke="#6a3a10" stroke-width="0.35"/>
<rect x="393.2" y="61.95" width="8.8" height="10.44" fill="#a80808" stroke="#6a3a10" stroke-width="0.35"/>
<rect x="393.2" y="72.38" width="8.8" height="10.44" fill="#a80808" stroke="#6a3a10" stroke-width="0.35"/>
<rect x="393.2" y="82.82" width="8.8" height="10.44" fill="#de7010" stroke="#6a3a10" stroke-width="0.35"/>
<rect x="393.2" y="93.25" width="8.8" height="10.44" fill="#d86810" stroke="#6a3a10" stroke-width="0.35"/>
<rect x="393.2" y="103.69" width="8.8" height="10.44" fill="#e8a810" stroke="#6a3a10" stroke-width="0.35"/>
<rect x="393.2" y="114.13" width="8.8" height="10.44" fill="#f2d020" stroke="#6a3a10" stroke-width="0.35"/>
<rect x="393.2" y="124.56" width="8.8" height="10.44" fill="#fbf6a8" stroke="#6a3a10" stroke-width="0.35"/>
<rect x="393.2" y="20.2" width="8.8" height="114.8" fill="none" stroke="#6a4a20" stroke-width="0.5"/>
<line x1="404.3" y1="20.5" x2="404.3" y2="135" stroke="#bbb" stroke-width="0.5"/>
<text x="407.00" y="33.52" font-size="8.2" text-anchor="start" fill="#222" stroke="#222" >Protein binding</text>
<text x="407.00" y="76.22" font-size="8.2" text-anchor="start" fill="#222" stroke="#222" >Extracellular matrix binding/</text>
<text x="407.00" y="84.42" font-size="8.2" text-anchor="start" fill="#222" stroke="#222" >Cell adhesion molecule binding</text>
<text x="407.00" y="117.92" font-size="8.2" text-anchor="start" fill="#222" stroke="#222" >Serine-type endopeptidase</text>
<text x="407.00" y="126.12" font-size="8.2" text-anchor="start" fill="#222" stroke="#222" >inhibitor activity</text>
<text x="407.00" y="134.92" font-size="8.2" text-anchor="start" fill="#222" stroke="#222" >Protease binding</text>
<text transform="translate(389.96,80.2) rotate(-90)" font-size="8.6" text-anchor="middle" fill="#222" stroke="#222">Overrepresented functions</text>
<text x="418.50" y="147.52" font-size="8.2" text-anchor="middle" fill="#222" stroke="#222" ><tspan font-style="italic">P</tspan></text>
<rect x="393.5" y="151.3" width="50.8" height="4.8" fill="url(#gP)" stroke="#7a5a20" stroke-width="0.4"/>
<text x="393.50" y="164.42" font-size="8.2" text-anchor="middle" fill="#222" stroke="#222" >0.05</text>
<text x="413.30" y="164.42" font-size="8.2" text-anchor="middle" fill="#222" stroke="#222" >0.01</text>
<text x="443.10" y="164.42" font-size="8.2" text-anchor="middle" fill="#222" stroke="#222" >≤0.001</text>
<text x="25.20" y="195.32" font-size="8.2" text-anchor="start" fill="#444" stroke="#444" >Enriched in</text>
<text x="25.20" y="203.42" font-size="8.2" text-anchor="start" fill="#444" stroke="#444" >A1 Null</text>
<line x1="27.4" y1="207.5" x2="40" y2="207.5" stroke="#777" stroke-width="0.7"/>
<path d="M25.4,207.5 L28.4,206.2 L28.4,208.8 Z" fill="#777"/>
<text x="230.20" y="195.12" font-size="8.2" text-anchor="end" fill="#444" stroke="#444" >Enriched in</text>
<text x="230.20" y="203.42" font-size="8.2" text-anchor="end" fill="#444" stroke="#444" >A1 WT</text>
<line x1="216.8" y1="207.4" x2="229.4" y2="207.4" stroke="#777" stroke-width="0.7"/>
<path d="M231.4,207.4 L228.4,206.1 L228.4,208.70000000000002 Z" fill="#777"/>
<line x1="20.5" y1="209" x2="20.5" y2="349" stroke="#bdbdbd" stroke-width="0.7"/>
<line x1="20.5" y1="349" x2="236.5" y2="349" stroke="#bdbdbd" stroke-width="0.7"/>
<text x="17.40" y="347.42" font-size="8.2" text-anchor="end" fill="#222" stroke="#222" >0</text>
<line x1="20.5" y1="344.6" x2="22" y2="344.6" stroke="#bdbdbd" stroke-width="0.6"/>
<text x="17.40" y="326.32" font-size="8.2" text-anchor="end" fill="#222" stroke="#222" >1</text>
<line x1="20.5" y1="323.5" x2="22" y2="323.5" stroke="#bdbdbd" stroke-width="0.6"/>
<text x="17.40" y="305.22" font-size="8.2" text-anchor="end" fill="#222" stroke="#222" >2</text>
<line x1="20.5" y1="302.4" x2="22" y2="302.4" stroke="#bdbdbd" stroke-width="0.6"/>
<text x="17.40" y="284.12" font-size="8.2" text-anchor="end" fill="#222" stroke="#222" >3</text>
<line x1="20.5" y1="281.3" x2="22" y2="281.3" stroke="#bdbdbd" stroke-width="0.6"/>
<text x="17.40" y="263.02" font-size="8.2" text-anchor="end" fill="#222" stroke="#222" >4</text>
<line x1="20.5" y1="260.2" x2="22" y2="260.2" stroke="#bdbdbd" stroke-width="0.6"/>
<text x="17.40" y="241.92" font-size="8.2" text-anchor="end" fill="#222" stroke="#222" >5</text>
<line x1="20.5" y1="239.1" x2="22" y2="239.1" stroke="#bdbdbd" stroke-width="0.6"/>
<text x="17.40" y="220.82" font-size="8.2" text-anchor="end" fill="#222" stroke="#222" >6</text>
<line x1="20.5" y1="218.0" x2="22" y2="218.0" stroke="#bdbdbd" stroke-width="0.6"/>
<text x="35.80" y="360.42" font-size="8.2" text-anchor="middle" fill="#222" stroke="#222" >–6</text>
<line x1="37.7" y1="349" x2="37.7" y2="350.5" stroke="#bdbdbd" stroke-width="0.6"/>
<text x="66.00" y="360.42" font-size="8.2" text-anchor="middle" fill="#222" stroke="#222" >–4</text>
<line x1="67.9" y1="349" x2="67.9" y2="350.5" stroke="#bdbdbd" stroke-width="0.6"/>
<text x="96.20" y="360.42" font-size="8.2" text-anchor="middle" fill="#222" stroke="#222" >–2</text>
<line x1="98.1" y1="349" x2="98.1" y2="350.5" stroke="#bdbdbd" stroke-width="0.6"/>
<text x="128.30" y="360.42" font-size="8.2" text-anchor="middle" fill="#222" stroke="#222" >0</text>
<line x1="128.3" y1="349" x2="128.3" y2="350.5" stroke="#bdbdbd" stroke-width="0.6"/>
<text x="158.50" y="360.42" font-size="8.2" text-anchor="middle" fill="#222" stroke="#222" >2</text>
<line x1="158.5" y1="349" x2="158.5" y2="350.5" stroke="#bdbdbd" stroke-width="0.6"/>
<text x="188.70" y="360.42" font-size="8.2" text-anchor="middle" fill="#222" stroke="#222" >4</text>
<line x1="188.7" y1="349" x2="188.7" y2="350.5" stroke="#bdbdbd" stroke-width="0.6"/>
<text x="218.90" y="360.42" font-size="8.2" text-anchor="middle" fill="#222" stroke="#222" >6</text>
<line x1="218.9" y1="349" x2="218.9" y2="350.5" stroke="#bdbdbd" stroke-width="0.6"/>
<text x="128.0" y="372.02" font-size="8.2" text-anchor="middle" fill="#222" stroke="#222">Log<tspan font-size="5" dy="1.6">2</tspan><tspan dy="-1.6"> (WT/null)</tspan></text>
<text transform="translate(7.02,282) rotate(-90)" font-size="8.2" text-anchor="middle" fill="#222" stroke="#222">–Log<tspan font-size="4.6" dy="1.3">10</tspan><tspan dy="-1.3">(</tspan><tspan font-style="italic">P</tspan>)</text>
<path d="M115.9,319.7h2.8M117.3,318.3v2.8M133.2,339.0h2.8M134.6,337.6v2.8M128.9,342.4h2.8M130.3,341.0v2.8M105.0,258.7h2.8M106.4,257.3v2.8M115.0,323.0h2.8M116.4,321.6v2.8M134.9,309.6h2.8M136.3,308.2v2.8M127.2,333.3h2.8M128.6,331.9v2.8M125.5,342.7h2.8M126.9,341.3v2.8M123.1,308.7h2.8M124.5,307.3v2.8M127.4,338.6h2.8M128.8,337.2v2.8M135.2,304.4h2.8M136.6,303.0v2.8M127.3,338.1h2.8M128.7,336.7v2.8M128.5,334.7h2.8M129.9,333.3v2.8M145.8,278.9h2.8M147.2,277.5v2.8M121.1,297.7h2.8M122.5,296.3v2.8M113.2,300.6h2.8M114.6,299.2v2.8M133.1,298.3h2.8M134.5,296.9v2.8M118.0,342.8h2.8M119.4,341.4v2.8M133.1,331.1h2.8M134.5,329.7v2.8M123.3,329.5h2.8M124.7,328.1v2.8M129.0,337.4h2.8M130.4,336.0v2.8M122.9,318.3h2.8M124.3,316.9v2.8M141.0,294.3h2.8M142.4,292.9v2.8M122.7,324.1h2.8M124.1,322.7v2.8M131.4,343.7h2.8M132.8,342.3v2.8M122.6,320.1h2.8M124.0,318.7v2.8M126.0,337.4h2.8M127.4,336.0v2.8M142.3,286.8h2.8M143.7,285.4v2.8M127.9,338.7h2.8M129.3,337.3v2.8M118.7,305.9h2.8M120.1,304.5v2.8M129.8,337.5h2.8M131.2,336.1v2.8M136.7,284.9h2.8M138.1,283.5v2.8M132.1,310.5h2.8M133.5,309.1v2.8M147.1,283.1h2.8M148.5,281.7v2.8M122.0,321.0h2.8M123.4,319.6v2.8M110.9,290.5h2.8M112.3,289.1v2.8M139.0,290.2h2.8M140.4,288.8v2.8M132.3,343.9h2.8M133.7,342.5v2.8M130.8,335.7h2.8M132.2,334.3v2.8M120.0,308.7h2.8M121.4,307.3v2.8M134.3,325.5h2.8M135.7,324.1v2.8M137.3,315.4h2.8M138.7,314.0v2.8M123.8,327.5h2.8M125.2,326.1v2.8M128.6,338.2h2.8M130.0,336.8v2.8M135.4,301.9h2.8M136.8,300.5v2.8M132.5,327.6h2.8M133.9,326.2v2.8M135.2,328.6h2.8M136.6,327.2v2.8M124.9,339.9h2.8M126.3,338.5v2.8M139.4,294.8h2.8M140.8,293.4v2.8M117.7,317.1h2.8M119.1,315.7v2.8M128.4,340.5h2.8M129.8,339.1v2.8M125.7,343.3h2.8M127.1,341.9v2.8M127.6,339.8h2.8M129.0,338.4v2.8M122.6,338.3h2.8M124.0,336.9v2.8M129.0,335.2h2.8M130.4,333.8v2.8M120.4,338.2h2.8M121.8,336.8v2.8M137.3,296.4h2.8M138.7,295.0v2.8M125.4,340.8h2.8M126.8,339.4v2.8M128.0,343.2h2.8M129.4,341.8v2.8M136.1,338.2h2.8M137.5,336.8v2.8M146.4,258.1h2.8M147.8,256.7v2.8M123.6,343.6h2.8M125.0,342.2v2.8M126.9,338.1h2.8M128.3,336.7v2.8M143.1,299.8h2.8M144.5,298.4v2.8M139.5,297.7h2.8M140.9,296.3v2.8M112.7,304.2h2.8M114.1,302.8v2.8M113.3,308.6h2.8M114.7,307.2v2.8M138.0,308.9h2.8M139.4,307.5v2.8M137.5,305.9h2.8M138.9,304.5v2.8M112.7,301.7h2.8M114.1,300.3v2.8M148.6,274.3h2.8M150.0,272.9v2.8M116.9,295.9h2.8M118.3,294.5v2.8M127.8,341.0h2.8M129.2,339.6v2.8M140.9,288.3h2.8M142.3,286.9v2.8M114.6,298.2h2.8M116.0,296.8v2.8M118.6,328.8h2.8M120.0,327.4v2.8M114.9,297.4h2.8M116.3,296.0v2.8M119.2,306.5h2.8M120.6,305.1v2.8M111.1,300.2h2.8M112.5,298.8v2.8M123.8,344.0h2.8M125.2,342.6v2.8M125.9,330.7h2.8M127.3,329.3v2.8M108.0,294.0h2.8M109.4,292.6v2.8M128.9,343.0h2.8M130.3,341.6v2.8M112.0,288.7h2.8M113.4,287.3v2.8M114.8,308.4h2.8M116.2,307.0v2.8M118.5,330.7h2.8M119.9,329.3v2.8M115.6,317.3h2.8M117.0,315.9v2.8M115.6,298.5h2.8M117.0,297.1v2.8M127.9,342.7h2.8M129.3,341.3v2.8M131.8,336.4h2.8M133.2,335.0v2.8M114.7,289.4h2.8M116.1,288.0v2.8M129.6,337.7h2.8M131.0,336.3v2.8M130.0,330.2h2.8M131.4,328.8v2.8M133.0,322.3h2.8M134.4,320.9v2.8M132.5,314.7h2.8M133.9,313.3v2.8M129.2,340.1h2.8M130.6,338.7v2.8M135.7,313.1h2.8M137.1,311.7v2.8M147.1,259.5h2.8M148.5,258.1v2.8M126.9,343.4h2.8M128.3,342.0v2.8M136.4,307.0h2.8M137.8,305.6v2.8M119.0,302.9h2.8M120.4,301.5v2.8M129.8,325.6h2.8M131.2,324.2v2.8M133.5,331.6h2.8M134.9,330.2v2.8M137.4,288.0h2.8M138.8,286.6v2.8M122.4,339.7h2.8M123.8,338.3v2.8M135.2,321.1h2.8M136.6,319.7v2.8M130.7,337.5h2.8M132.1,336.1v2.8M120.1,307.0h2.8M121.5,305.6v2.8M124.3,344.2h2.8M125.7,342.8v2.8M142.8,275.9h2.8M144.2,274.5v2.8M134.5,324.5h2.8M135.9,323.1v2.8M123.5,341.6h2.8M124.9,340.2v2.8M112.6,301.3h2.8M114.0,299.9v2.8M129.7,341.5h2.8M131.1,340.1v2.8M121.9,337.0h2.8M123.3,335.6v2.8M122.8,319.5h2.8M124.2,318.1v2.8M125.6,337.3h2.8M127.0,335.9v2.8M131.1,342.4h2.8M132.5,341.0v2.8M127.3,339.8h2.8M128.7,338.4v2.8M127.6,338.7h2.8M129.0,337.3v2.8M129.6,337.5h2.8M131.0,336.1v2.8M125.5,337.7h2.8M126.9,336.3v2.8M125.4,341.2h2.8M126.8,339.8v2.8M120.0,323.1h2.8M121.4,321.7v2.8M132.3,318.4h2.8M133.7,317.0v2.8M126.4,339.7h2.8M127.8,338.3v2.8M120.2,338.4h2.8M121.6,337.0v2.8M117.5,298.3h2.8M118.9,296.9v2.8M137.6,312.2h2.8M139.0,310.8v2.8M137.9,311.6h2.8M139.3,310.2v2.8M133.6,335.7h2.8M135.0,334.3v2.8M124.9,340.1h2.8M126.3,338.7v2.8M138.8,294.6h2.8M140.2,293.2v2.8M128.5,338.0h2.8M129.9,336.6v2.8M132.6,328.7h2.8M134.0,327.3v2.8M126.4,340.2h2.8M127.8,338.8v2.8M117.2,315.7h2.8M118.6,314.3v2.8M114.1,325.1h2.8M115.5,323.7v2.8M129.2,338.2h2.8M130.6,336.8v2.8M133.1,322.0h2.8M134.5,320.6v2.8M134.3,318.3h2.8M135.7,316.9v2.8M123.9,327.9h2.8M125.3,326.5v2.8M114.5,310.0h2.8M115.9,308.6v2.8M130.1,331.8h2.8M131.5,330.4v2.8M106.7,263.0h2.8M108.1,261.6v2.8M135.2,329.7h2.8M136.6,328.3v2.8M123.6,339.3h2.8M125.0,337.9v2.8M131.6,343.7h2.8M133.0,342.3v2.8M118.1,312.4h2.8M119.5,311.0v2.8M144.1,278.3h2.8M145.5,276.9v2.8M113.6,279.2h2.8M115.0,277.8v2.8M129.3,298.5h2.8M130.7,297.1v2.8M122.4,332.7h2.8M123.8,331.3v2.8M124.1,333.5h2.8M125.5,332.1v2.8M121.4,339.2h2.8M122.8,337.8v2.8M108.6,272.1h2.8M110.0,270.7v2.8M132.7,320.7h2.8M134.1,319.3v2.8M124.3,343.1h2.8M125.7,341.7v2.8M120.7,327.5h2.8M122.1,326.1v2.8M125.0,332.5h2.8M126.4,331.1v2.8M132.6,323.1h2.8M134.0,321.7v2.8M128.3,338.1h2.8M129.7,336.7v2.8M119.9,313.6h2.8M121.3,312.2v2.8M134.3,326.4h2.8M135.7,325.0v2.8M138.5,331.4h2.8M139.9,330.0v2.8M128.3,339.3h2.8M129.7,337.9v2.8M129.2,330.6h2.8M130.6,329.2v2.8M137.7,333.0h2.8M139.1,331.6v2.8M126.1,342.3h2.8M127.5,340.9v2.8M122.5,340.3h2.8M123.9,338.9v2.8M124.6,340.0h2.8M126.0,338.6v2.8M115.6,299.8h2.8M117.0,298.4v2.8M132.0,342.3h2.8M133.4,340.9v2.8M138.0,298.4h2.8M139.4,297.0v2.8M140.3,300.2h2.8M141.7,298.8v2.8M123.6,338.8h2.8M125.0,337.4v2.8M123.3,324.1h2.8M124.7,322.7v2.8M135.8,313.0h2.8M137.2,311.6v2.8M146.0,285.5h2.8M147.4,284.1v2.8M127.9,344.1h2.8M129.3,342.7v2.8M124.7,341.0h2.8M126.1,339.6v2.8M123.8,320.3h2.8M125.2,318.9v2.8M145.6,280.3h2.8M147.0,278.9v2.8M120.9,302.4h2.8M122.3,301.0v2.8M143.6,295.4h2.8M145.0,294.0v2.8M112.0,281.0h2.8M113.4,279.6v2.8M137.0,315.2h2.8M138.4,313.8v2.8M132.3,335.9h2.8M133.7,334.5v2.8M138.1,312.5h2.8M139.5,311.1v2.8M134.4,305.6h2.8M135.8,304.2v2.8M140.2,310.1h2.8M141.6,308.7v2.8M113.3,317.5h2.8M114.7,316.1v2.8M134.3,335.7h2.8M135.7,334.3v2.8M125.5,341.4h2.8M126.9,340.0v2.8M120.1,320.1h2.8M121.5,318.7v2.8M128.3,342.5h2.8M129.7,341.1v2.8M129.4,328.9h2.8M130.8,327.5v2.8M120.0,322.4h2.8M121.4,321.0v2.8M126.6,339.9h2.8M128.0,338.5v2.8M130.6,343.5h2.8M132.0,342.1v2.8M131.4,327.5h2.8M132.8,326.1v2.8M131.5,339.4h2.8M132.9,338.0v2.8M133.4,318.8h2.8M134.8,317.4v2.8M123.2,334.9h2.8M124.6,333.5v2.8M134.4,314.8h2.8M135.8,313.4v2.8M133.4,322.4h2.8M134.8,321.0v2.8M137.6,281.9h2.8M139.0,280.5v2.8M131.2,339.4h2.8M132.6,338.0v2.8M143.1,292.6h2.8M144.5,291.2v2.8M117.5,307.3h2.8M118.9,305.9v2.8M125.3,339.5h2.8M126.7,338.1v2.8M120.1,323.7h2.8M121.5,322.3v2.8M121.4,326.7h2.8M122.8,325.3v2.8M128.9,340.5h2.8M130.3,339.1v2.8M130.6,341.6h2.8M132.0,340.2v2.8M141.6,297.3h2.8M143.0,295.9v2.8M136.6,315.3h2.8M138.0,313.9v2.8M141.8,293.1h2.8M143.2,291.7v2.8M121.4,326.7h2.8M122.8,325.3v2.8M140.9,279.6h2.8M142.3,278.2v2.8M122.0,344.1h2.8M123.4,342.7v2.8M137.7,288.8h2.8M139.1,287.4v2.8M133.0,328.5h2.8M134.4,327.1v2.8M128.4,340.6h2.8M129.8,339.2v2.8M118.4,319.3h2.8M119.8,317.9v2.8M130.3,313.5h2.8M131.7,312.1v2.8M135.6,342.7h2.8M137.0,341.3v2.8M128.1,336.0h2.8M129.5,334.6v2.8M129.2,328.8h2.8M130.6,327.4v2.8M129.8,329.2h2.8M131.2,327.8v2.8M129.6,343.8h2.8M131.0,342.4v2.8M131.3,301.8h2.8M132.7,300.4v2.8M132.7,320.4h2.8M134.1,319.0v2.8M137.0,321.8h2.8M138.4,320.4v2.8M133.5,314.6h2.8M134.9,313.2v2.8M131.0,321.7h2.8M132.4,320.3v2.8M134.2,306.8h2.8M135.6,305.4v2.8M120.9,320.8h2.8M122.3,319.4v2.8M121.8,314.9h2.8M123.2,313.5v2.8M128.2,341.6h2.8M129.6,340.2v2.8M127.9,337.8h2.8M129.3,336.4v2.8M116.2,312.4h2.8M117.6,311.0v2.8M136.5,308.3h2.8M137.9,306.9v2.8M121.0,318.6h2.8M122.4,317.2v2.8M132.3,311.1h2.8M133.7,309.7v2.8M135.3,312.2h2.8M136.7,310.8v2.8M119.5,317.3h2.8M120.9,315.9v2.8M129.7,337.8h2.8M131.1,336.4v2.8M130.8,342.5h2.8M132.2,341.1v2.8M132.2,311.7h2.8M133.6,310.3v2.8M132.4,320.4h2.8M133.8,319.0v2.8M128.8,343.5h2.8M130.2,342.1v2.8M135.7,323.7h2.8M137.1,322.3v2.8M130.8,333.7h2.8M132.2,332.3v2.8M115.0,289.5h2.8M116.4,288.1v2.8M118.6,316.0h2.8M120.0,314.6v2.8M114.7,321.8h2.8M116.1,320.4v2.8M133.0,341.4h2.8M134.4,340.0v2.8M107.6,277.1h2.8M109.0,275.7v2.8M112.5,295.8h2.8M113.9,294.4v2.8M143.9,288.0h2.8M145.3,286.6v2.8M130.2,329.5h2.8M131.6,328.1v2.8M129.2,341.4h2.8M130.6,340.0v2.8M140.9,295.9h2.8M142.3,294.5v2.8M130.2,334.8h2.8M131.6,333.4v2.8M115.0,299.4h2.8M116.4,298.0v2.8M127.4,339.4h2.8M128.8,338.0v2.8M133.3,306.1h2.8M134.7,304.7v2.8M109.3,287.5h2.8M110.7,286.1v2.8M122.5,341.9h2.8M123.9,340.5v2.8M130.7,335.0h2.8M132.1,333.6v2.8M128.2,339.1h2.8M129.6,337.7v2.8M118.0,302.9h2.8M119.4,301.5v2.8M133.4,315.2h2.8M134.8,313.8v2.8M139.9,324.9h2.8M141.3,323.5v2.8M134.2,319.0h2.8M135.6,317.6v2.8M122.4,342.0h2.8M123.8,340.6v2.8M145.9,287.9h2.8M147.3,286.5v2.8M129.3,337.7h2.8M130.7,336.3v2.8M132.7,340.0h2.8M134.1,338.6v2.8M121.9,312.5h2.8M123.3,311.1v2.8M137.3,312.2h2.8M138.7,310.8v2.8M128.4,340.1h2.8M129.8,338.7v2.8M126.6,338.0h2.8M128.0,336.6v2.8M121.9,335.9h2.8M123.3,334.5v2.8M131.0,334.5h2.8M132.4,333.1v2.8M133.1,335.1h2.8M134.5,333.7v2.8M123.5,335.8h2.8M124.9,334.4v2.8M119.9,327.3h2.8M121.3,325.9v2.8M132.6,304.9h2.8M134.0,303.5v2.8M124.9,331.8h2.8M126.3,330.4v2.8M116.4,313.6h2.8M117.8,312.2v2.8M129.9,330.5h2.8M131.3,329.1v2.8M117.4,305.6h2.8M118.8,304.2v2.8M128.2,328.6h2.8M129.6,327.2v2.8M135.6,309.3h2.8M137.0,307.9v2.8M123.2,331.8h2.8M124.6,330.4v2.8M119.0,327.8h2.8M120.4,326.4v2.8M109.9,298.3h2.8M111.3,296.9v2.8M115.2,304.9h2.8M116.6,303.5v2.8M127.8,342.9h2.8M129.2,341.5v2.8M126.0,344.0h2.8M127.4,342.6v2.8M132.1,333.0h2.8M133.5,331.6v2.8M135.4,334.0h2.8M136.8,332.6v2.8M129.1,338.5h2.8M130.5,337.1v2.8M142.7,272.4h2.8M144.1,271.0v2.8M120.3,330.3h2.8M121.7,328.9v2.8M116.7,306.4h2.8M118.1,305.0v2.8M118.4,330.8h2.8M119.8,329.4v2.8M119.1,328.1h2.8M120.5,326.7v2.8M125.8,340.3h2.8M127.2,338.9v2.8M128.8,338.9h2.8M130.2,337.5v2.8M136.6,313.7h2.8M138.0,312.3v2.8M119.1,310.4h2.8M120.5,309.0v2.8M123.7,337.4h2.8M125.1,336.0v2.8M123.4,334.9h2.8M124.8,333.5v2.8M113.0,271.4h2.8M114.4,270.0v2.8M121.6,336.8h2.8M123.0,335.4v2.8M110.4,286.5h2.8M111.8,285.1v2.8M114.1,295.9h2.8M115.5,294.5v2.8M137.8,300.1h2.8M139.2,298.7v2.8M122.7,318.3h2.8M124.1,316.9v2.8M125.0,342.4h2.8M126.4,341.0v2.8M127.3,339.6h2.8M128.7,338.2v2.8M130.6,313.9h2.8M132.0,312.5v2.8M114.8,310.9h2.8M116.2,309.5v2.8M120.8,311.8h2.8M122.2,310.4v2.8M135.9,331.4h2.8M137.3,330.0v2.8M122.0,342.7h2.8M123.4,341.3v2.8M140.8,298.5h2.8M142.2,297.1v2.8M133.8,340.0h2.8M135.2,338.6v2.8M113.0,287.4h2.8M114.4,286.0v2.8M138.4,303.7h2.8M139.8,302.3v2.8M120.3,309.5h2.8M121.7,308.1v2.8M131.5,319.5h2.8M132.9,318.1v2.8M110.1,285.8h2.8M111.5,284.4v2.8M117.3,324.5h2.8M118.7,323.1v2.8M132.1,320.7h2.8M133.5,319.3v2.8M122.4,334.7h2.8M123.8,333.3v2.8M139.4,293.4h2.8M140.8,292.0v2.8M125.6,338.3h2.8M127.0,336.9v2.8M127.8,342.9h2.8M129.2,341.5v2.8M122.0,324.4h2.8M123.4,323.0v2.8M138.6,314.6h2.8M140.0,313.2v2.8M115.5,305.6h2.8M116.9,304.2v2.8M123.6,337.5h2.8M125.0,336.1v2.8M128.6,339.7h2.8M130.0,338.3v2.8M143.5,277.6h2.8M144.9,276.2v2.8M123.9,340.9h2.8M125.3,339.5v2.8M109.9,277.5h2.8M111.3,276.1v2.8M130.5,332.0h2.8M131.9,330.6v2.8M130.3,326.3h2.8M131.7,324.9v2.8M137.5,292.8h2.8M138.9,291.4v2.8M136.6,313.6h2.8M138.0,312.2v2.8M109.7,276.8h2.8M111.1,275.4v2.8M112.9,269.3h2.8M114.3,267.9v2.8M116.1,328.6h2.8M117.5,327.2v2.8M109.7,278.6h2.8M111.1,277.2v2.8M129.5,331.4h2.8M130.9,330.0v2.8M129.4,339.4h2.8M130.8,338.0v2.8M134.3,320.8h2.8M135.7,319.4v2.8M123.0,341.6h2.8M124.4,340.2v2.8M133.6,311.5h2.8M135.0,310.1v2.8M135.4,328.6h2.8M136.8,327.2v2.8M137.0,339.8h2.8M138.4,338.4v2.8M127.6,342.0h2.8M129.0,340.6v2.8M125.7,343.0h2.8M127.1,341.6v2.8M112.0,293.1h2.8M113.4,291.7v2.8M131.4,342.4h2.8M132.8,341.0v2.8M128.1,341.5h2.8M129.5,340.1v2.8M106.0,272.0h2.8M107.4,270.6v2.8M137.5,314.6h2.8M138.9,313.2v2.8M111.3,297.5h2.8M112.7,296.1v2.8M123.3,340.6h2.8M124.7,339.2v2.8M142.4,277.6h2.8M143.8,276.2v2.8M129.9,335.8h2.8M131.3,334.4v2.8M140.7,287.4h2.8M142.1,286.0v2.8M130.2,325.2h2.8M131.6,323.8v2.8M133.0,311.1h2.8M134.4,309.7v2.8M125.8,343.5h2.8M127.2,342.1v2.8M141.2,306.9h2.8M142.6,305.5v2.8M140.3,277.4h2.8M141.7,276.0v2.8M127.4,342.4h2.8M128.8,341.0v2.8M128.2,340.6h2.8M129.6,339.2v2.8M129.3,331.9h2.8M130.7,330.5v2.8M129.1,328.2h2.8M130.5,326.8v2.8M125.3,342.2h2.8M126.7,340.8v2.8M127.6,329.2h2.8M129.0,327.8v2.8M122.9,337.3h2.8M124.3,335.9v2.8M126.7,341.2h2.8M128.1,339.8v2.8M137.0,330.7h2.8M138.4,329.3v2.8M115.7,315.9h2.8M117.1,314.5v2.8M116.4,305.9h2.8M117.8,304.5v2.8M127.4,338.1h2.8M128.8,336.7v2.8M117.3,300.1h2.8M118.7,298.7v2.8M108.4,309.0h2.8M109.8,307.6v2.8M107.2,260.9h2.8M108.6,259.5v2.8M140.0,325.9h2.8M141.4,324.5v2.8M138.7,295.5h2.8M140.1,294.1v2.8M126.7,340.9h2.8M128.1,339.5v2.8M130.4,339.2h2.8M131.8,337.8v2.8M140.4,291.9h2.8M141.8,290.5v2.8M130.9,337.9h2.8M132.3,336.5v2.8M127.9,338.0h2.8M129.3,336.6v2.8M140.5,295.9h2.8M141.9,294.5v2.8M128.6,328.3h2.8M130.0,326.9v2.8M105.9,273.2h2.8M107.3,271.8v2.8M123.9,335.3h2.8M125.3,333.9v2.8M147.9,265.5h2.8M149.3,264.1v2.8M126.0,340.5h2.8M127.4,339.1v2.8M136.0,315.9h2.8M137.4,314.5v2.8M142.5,302.9h2.8M143.9,301.5v2.8M138.5,296.2h2.8M139.9,294.8v2.8M136.1,295.5h2.8M137.5,294.1v2.8M124.6,335.3h2.8M126.0,333.9v2.8M129.3,341.6h2.8M130.7,340.2v2.8M119.8,336.6h2.8M121.2,335.2v2.8M128.6,333.8h2.8M130.0,332.4v2.8M125.4,340.4h2.8M126.8,339.0v2.8M123.8,337.8h2.8M125.2,336.4v2.8M121.9,344.1h2.8M123.3,342.7v2.8M128.6,340.6h2.8M130.0,339.2v2.8M117.2,327.6h2.8M118.6,326.2v2.8M126.6,340.7h2.8M128.0,339.3v2.8M123.8,325.9h2.8M125.2,324.5v2.8M129.1,341.7h2.8M130.5,340.3v2.8M128.5,339.6h2.8M129.9,338.2v2.8M136.7,301.3h2.8M138.1,299.9v2.8M122.8,337.7h2.8M124.2,336.3v2.8M124.1,305.3h2.8M125.5,303.9v2.8M118.2,317.8h2.8M119.6,316.4v2.8M132.3,324.0h2.8M133.7,322.6v2.8M125.3,340.5h2.8M126.7,339.1v2.8M131.7,342.1h2.8M133.1,340.7v2.8M140.6,316.9h2.8M142.0,315.5v2.8M121.3,320.2h2.8M122.7,318.8v2.8M133.5,338.3h2.8M134.9,336.9v2.8M127.3,343.8h2.8M128.7,342.4v2.8M136.8,306.0h2.8M138.2,304.6v2.8M128.4,337.4h2.8M129.8,336.0v2.8M131.3,332.8h2.8M132.7,331.4v2.8M134.4,316.0h2.8M135.8,314.6v2.8M111.9,292.7h2.8M113.3,291.3v2.8M144.4,289.5h2.8M145.8,288.1v2.8M120.3,329.5h2.8M121.7,328.1v2.8M121.8,331.3h2.8M123.2,329.9v2.8M146.0,298.4h2.8M147.4,297.0v2.8M134.4,317.2h2.8M135.8,315.8v2.8M131.5,313.3h2.8M132.9,311.9v2.8M131.8,331.4h2.8M133.2,330.0v2.8M126.4,326.1h2.8M127.8,324.7v2.8M131.6,343.9h2.8M133.0,342.5v2.8M127.6,339.2h2.8M129.0,337.8v2.8M124.4,342.6h2.8M125.8,341.2v2.8M118.6,311.6h2.8M120.0,310.2v2.8M125.5,327.1h2.8M126.9,325.7v2.8M132.5,323.8h2.8M133.9,322.4v2.8M128.8,338.0h2.8M130.2,336.6v2.8M130.2,336.8h2.8M131.6,335.4v2.8M123.4,343.3h2.8M124.8,341.9v2.8M112.8,294.3h2.8M114.2,292.9v2.8M119.7,321.2h2.8M121.1,319.8v2.8M127.4,337.9h2.8M128.8,336.5v2.8M115.6,312.1h2.8M117.0,310.7v2.8M128.1,342.4h2.8M129.5,341.0v2.8M134.1,313.9h2.8M135.5,312.5v2.8M124.8,331.6h2.8M126.2,330.2v2.8M131.5,320.4h2.8M132.9,319.0v2.8M131.6,342.9h2.8M133.0,341.5v2.8M117.5,309.8h2.8M118.9,308.4v2.8M131.5,341.1h2.8M132.9,339.7v2.8M127.7,343.2h2.8M129.1,341.8v2.8M117.7,315.1h2.8M119.1,313.7v2.8M137.8,331.4h2.8M139.2,330.0v2.8M122.4,341.3h2.8M123.8,339.9v2.8M122.2,326.1h2.8M123.6,324.7v2.8M109.5,283.5h2.8M110.9,282.1v2.8M131.2,332.9h2.8M132.6,331.5v2.8M135.7,308.0h2.8M137.1,306.6v2.8M122.2,342.2h2.8M123.6,340.8v2.8M117.2,305.9h2.8M118.6,304.5v2.8M125.6,342.6h2.8M127.0,341.2v2.8M118.5,303.4h2.8M119.9,302.0v2.8M134.9,309.6h2.8M136.3,308.2v2.8M116.6,279.8h2.8M118.0,278.4v2.8M134.6,331.5h2.8M136.0,330.1v2.8M135.8,316.2h2.8M137.2,314.8v2.8M119.7,329.9h2.8M121.1,328.5v2.8M131.5,327.8h2.8M132.9,326.4v2.8M128.8,343.8h2.8M130.2,342.4v2.8M117.5,309.8h2.8M118.9,308.4v2.8M124.4,341.7h2.8M125.8,340.3v2.8M132.5,308.1h2.8M133.9,306.7v2.8M121.1,315.7h2.8M122.5,314.3v2.8M120.2,313.4h2.8M121.6,312.0v2.8M132.8,325.7h2.8M134.2,324.3v2.8M129.1,343.4h2.8M130.5,342.0v2.8M123.8,337.6h2.8M125.2,336.2v2.8M125.3,338.8h2.8M126.7,337.4v2.8M127.8,334.5h2.8M129.2,333.1v2.8M134.6,289.7h2.8M136.0,288.3v2.8M140.8,307.5h2.8M142.2,306.1v2.8M124.2,340.6h2.8M125.6,339.2v2.8M138.6,291.7h2.8M140.0,290.3v2.8M125.2,338.9h2.8M126.6,337.5v2.8M137.8,297.1h2.8M139.2,295.7v2.8M122.4,341.9h2.8M123.8,340.5v2.8M111.3,283.4h2.8M112.7,282.0v2.8M116.2,305.4h2.8M117.6,304.0v2.8M129.3,327.6h2.8M130.7,326.2v2.8M123.0,340.2h2.8M124.4,338.8v2.8M134.2,330.2h2.8M135.6,328.8v2.8M126.9,340.9h2.8M128.3,339.5v2.8M119.7,320.3h2.8M121.1,318.9v2.8M114.2,294.7h2.8M115.6,293.3v2.8M131.6,337.1h2.8M133.0,335.7v2.8M112.7,262.0h2.8M114.1,260.6v2.8M146.4,269.2h2.8M147.8,267.8v2.8M131.1,321.9h2.8M132.5,320.5v2.8M132.3,343.0h2.8M133.7,341.6v2.8M114.3,302.1h2.8M115.7,300.7v2.8M122.7,340.5h2.8M124.1,339.1v2.8M123.4,337.9h2.8M124.8,336.5v2.8M129.3,340.6h2.8M130.7,339.2v2.8M122.2,329.8h2.8M123.6,328.4v2.8M118.5,330.3h2.8M119.9,328.9v2.8M119.6,337.8h2.8M121.0,336.4v2.8M128.2,338.1h2.8M129.6,336.7v2.8M135.2,308.9h2.8M136.6,307.5v2.8M134.1,343.3h2.8M135.5,341.9v2.8M140.0,309.5h2.8M141.4,308.1v2.8M113.9,298.8h2.8M115.3,297.4v2.8M126.5,337.8h2.8M127.9,336.4v2.8M124.1,327.7h2.8M125.5,326.3v2.8M115.9,326.0h2.8M117.3,324.6v2.8M135.4,320.8h2.8M136.8,319.4v2.8M119.3,321.1h2.8M120.7,319.7v2.8M115.9,310.3h2.8M117.3,308.9v2.8M114.4,298.6h2.8M115.8,297.2v2.8M121.6,329.1h2.8M123.0,327.7v2.8M126.9,343.7h2.8M128.3,342.3v2.8M111.3,287.2h2.8M112.7,285.8v2.8M124.5,343.3h2.8M125.9,341.9v2.8M124.6,330.6h2.8M126.0,329.2v2.8M121.4,319.6h2.8M122.8,318.2v2.8M115.0,315.5h2.8M116.4,314.1v2.8M135.8,313.3h2.8M137.2,311.9v2.8M134.3,303.4h2.8M135.7,302.0v2.8M127.8,340.7h2.8M129.2,339.3v2.8M119.3,328.9h2.8M120.7,327.5v2.8M130.1,337.6h2.8M131.5,336.2v2.8M117.9,330.3h2.8M119.3,328.9v2.8M117.9,330.8h2.8M119.3,329.4v2.8M131.8,321.8h2.8M133.2,320.4v2.8M129.6,334.7h2.8M131.0,333.3v2.8M122.4,329.8h2.8M123.8,328.4v2.8M127.5,341.0h2.8M128.9,339.6v2.8M122.5,340.9h2.8M123.9,339.5v2.8M133.3,326.9h2.8M134.7,325.5v2.8M126.6,342.2h2.8M128.0,340.8v2.8M111.6,305.6h2.8M113.0,304.2v2.8M114.5,314.9h2.8M115.9,313.5v2.8M117.1,301.8h2.8M118.5,300.4v2.8M116.4,284.7h2.8M117.8,283.3v2.8M129.4,331.6h2.8M130.8,330.2v2.8M126.5,337.6h2.8M127.9,336.2v2.8M130.3,326.6h2.8M131.7,325.2v2.8M132.2,321.6h2.8M133.6,320.2v2.8M130.4,323.1h2.8M131.8,321.7v2.8M127.1,341.5h2.8M128.5,340.1v2.8M141.3,279.1h2.8M142.7,277.7v2.8M146.9,257.9h2.8M148.3,256.5v2.8M118.1,312.5h2.8M119.5,311.1v2.8M136.2,324.4h2.8M137.6,323.0v2.8M129.8,325.0h2.8M131.2,323.6v2.8M128.6,340.3h2.8M130.0,338.9v2.8M112.6,282.6h2.8M114.0,281.2v2.8M116.0,305.0h2.8M117.4,303.6v2.8M108.0,258.4h2.8M109.4,257.0v2.8M118.6,331.8h2.8M120.0,330.4v2.8M133.8,335.3h2.8M135.2,333.9v2.8M110.6,289.2h2.8M112.0,287.8v2.8M117.0,307.1h2.8M118.4,305.7v2.8M134.7,319.0h2.8M136.1,317.6v2.8M141.1,293.4h2.8M142.5,292.0v2.8M120.8,341.6h2.8M122.2,340.2v2.8M123.2,321.3h2.8M124.6,319.9v2.8M134.1,325.5h2.8M135.5,324.1v2.8M130.9,333.9h2.8M132.3,332.5v2.8M128.0,337.5h2.8M129.4,336.1v2.8M134.8,317.3h2.8M136.2,315.9v2.8M127.5,338.4h2.8M128.9,337.0v2.8M119.6,333.0h2.8M121.0,331.6v2.8M145.8,270.4h2.8M147.2,269.0v2.8M129.5,334.9h2.8M130.9,333.5v2.8M127.0,340.9h2.8M128.4,339.5v2.8M117.5,308.5h2.8M118.9,307.1v2.8M117.2,297.7h2.8M118.6,296.3v2.8M120.6,331.7h2.8M122.0,330.3v2.8M125.6,338.4h2.8M127.0,337.0v2.8M107.6,222.0h2.8M109.0,220.6v2.8M109.6,229.0h2.8M111.0,227.6v2.8M106.6,247.0h2.8M108.0,245.6v2.8M108.6,252.0h2.8M110.0,250.6v2.8M113.6,236.0h2.8M115.0,234.6v2.8M110.6,262.0h2.8M112.0,260.6v2.8M145.6,258.0h2.8M147.0,256.6v2.8M142.6,264.0h2.8M144.0,262.6v2.8M148.6,270.0h2.8M150.0,268.6v2.8M139.6,273.0h2.8M141.0,271.6v2.8M115.1,323.2h2.8M116.5,321.8v2.8M140.8,337.9h2.8M142.2,336.5v2.8M128.5,328.1h2.8M129.9,326.7v2.8M134.1,303.6h2.8M135.5,302.2v2.8M109.1,294.7h2.8M110.5,293.3v2.8M122.8,321.5h2.8M124.2,320.1v2.8M142.5,291.6h2.8M143.9,290.2v2.8M118.6,298.2h2.8M120.0,296.8v2.8M110.4,308.6h2.8M111.8,307.2v2.8M108.6,300.6h2.8M110.0,299.2v2.8M145.1,300.9h2.8M146.5,299.5v2.8M106.8,308.9h2.8M108.2,307.5v2.8M125.6,313.5h2.8M127.0,312.1v2.8M111.6,324.3h2.8M113.0,322.9v2.8M124.7,337.8h2.8M126.1,336.4v2.8M134.5,326.6h2.8M135.9,325.2v2.8M117.7,336.5h2.8M119.1,335.1v2.8M118.3,281.6h2.8M119.7,280.2v2.8M117.8,336.2h2.8M119.2,334.8v2.8M120.1,280.7h2.8M121.5,279.3v2.8M108.9,320.1h2.8M110.3,318.7v2.8M114.2,297.9h2.8M115.6,296.5v2.8M125.2,336.1h2.8M126.6,334.7v2.8M142.8,321.0h2.8M144.2,319.6v2.8M135.0,312.9h2.8M136.4,311.5v2.8M143.2,338.7h2.8M144.6,337.3v2.8M115.0,323.8h2.8M116.4,322.4v2.8M116.6,288.7h2.8M118.0,287.3v2.8M127.0,319.8h2.8M128.4,318.4v2.8M127.2,287.2h2.8M128.6,285.8v2.8M130.0,313.0h2.8M131.4,311.6v2.8M133.8,302.3h2.8M135.2,300.9v2.8M122.8,314.6h2.8M124.2,313.2v2.8M110.8,313.8h2.8M112.2,312.4v2.8M143.5,322.5h2.8M144.9,321.1v2.8M121.0,303.0h2.8M122.4,301.6v2.8M130.9,331.0h2.8M132.3,329.6v2.8M124.5,294.5h2.8M125.9,293.1v2.8M106.8,335.4h2.8M108.2,334.0v2.8M138.1,283.3h2.8M139.5,281.9v2.8M108.0,337.2h2.8M109.4,335.8v2.8M132.4,323.9h2.8M133.8,322.5v2.8M133.8,340.3h2.8M135.2,338.9v2.8M125.0,331.9h2.8M126.4,330.5v2.8M119.6,297.1h2.8M121.0,295.7v2.8M127.3,286.7h2.8M128.7,285.3v2.8M141.9,302.0h2.8M143.3,300.6v2.8M142.1,330.9h2.8M143.5,329.5v2.8M125.8,321.6h2.8M127.2,320.2v2.8M132.4,335.2h2.8M133.8,333.8v2.8M143.8,318.3h2.8M145.2,316.9v2.8M139.3,280.8h2.8M140.7,279.4v2.8M146.2,317.0h2.8M147.6,315.6v2.8M142.5,277.3h2.8M143.9,275.9v2.8M110.7,293.6h2.8M112.1,292.2v2.8M136.9,312.6h2.8M138.3,311.2v2.8M117.2,331.1h2.8M118.6,329.7v2.8M123.0,281.5h2.8M124.4,280.1v2.8M122.6,325.8h2.8M124.0,324.4v2.8M132.1,313.9h2.8M133.5,312.5v2.8" stroke="#d0d0d0" stroke-width="0.5" fill="none"/>
<polyline points="106.30,216.23 106.24,222.60 106.18,228.36 106.12,233.59 106.06,238.36 106.00,242.73 105.94,246.75 105.88,250.46 105.82,253.89 105.76,257.07 105.70,260.03 105.63,262.79 105.57,265.37 105.51,267.79 105.45,270.07 105.39,272.20 105.33,274.22 105.27,276.12 105.21,277.92 105.15,279.62 105.09,281.24 105.03,282.77 104.97,284.23 104.91,285.62 104.85,286.95 104.79,288.21 104.73,289.42 104.67,290.57 104.61,291.68 104.55,292.73 104.49,293.75 104.43,294.73 104.37,295.66 104.31,296.56 104.25,297.43 104.19,298.26 104.12,299.06 104.06,299.84 104.00,300.59 103.94,301.31 103.88,302.00 103.82,302.68 103.76,303.33 103.70,303.96 103.64,304.57 103.58,305.16 103.52,305.73 103.46,306.29 103.40,306.83 103.34,307.35 103.28,307.86 103.22,308.35 103.16,308.83 103.10,309.30 103.04,309.75 102.98,310.19 102.92,310.62 102.86,311.04 102.80,311.44 102.74,311.84 102.68,312.23 102.61,312.60 102.55,312.97 102.49,313.33 102.43,313.68 102.37,314.02 102.31,314.35 102.25,314.68 102.19,315.00 102.13,315.31 102.07,315.61 102.01,315.91 101.95,316.20 101.89,316.48 101.83,316.76 101.77,317.03 101.71,317.30 101.65,317.56 101.59,317.81 101.53,318.06 101.47,318.31 101.41,318.55 101.35,318.78 101.29,319.02 101.23,319.24 101.17,319.46 101.10,319.68 101.04,319.89 100.98,320.10 100.92,320.31 100.86,320.51 100.80,320.71 100.74,320.90 100.68,321.10 100.62,321.28 100.56,321.47 100.50,321.65 100.44,321.83 100.38,322.00 100.32,322.17 100.26,322.34 100.20,322.51 100.14,322.67 100.08,322.83 100.02,322.99 99.96,323.15 99.90,323.30 99.84,323.45 99.78,323.60 99.72,323.75 99.66,323.89 99.59,324.03 99.53,324.17 99.47,324.31 99.41,324.44 99.35,324.58 99.29,324.71 99.23,324.84 99.17,324.97 99.11,325.09 99.05,325.21 98.99,325.34 98.93,325.46 98.87,325.58 98.81,325.69 98.75,325.81 98.69,325.92 98.63,326.03 98.57,326.14 98.51,326.25 98.45,326.36 98.39,326.47 98.33,326.57 98.27,326.68 98.21,326.78 98.15,326.88 98.08,326.98 98.02,327.08 97.96,327.17 97.90,327.27 97.84,327.36 97.78,327.46 97.72,327.55 97.66,327.64 97.60,327.73 97.54,327.82 97.48,327.91 97.42,327.99 97.36,328.08 97.30,328.16 97.24,328.25 97.18,328.33 97.12,328.41 97.06,328.49 97.00,328.57 96.94,328.65 96.88,328.73 96.82,328.80 96.76,328.88 96.70,328.96 96.64,329.03 96.57,329.10 96.51,329.18 96.45,329.25 96.39,329.32 96.33,329.39 96.27,329.46 96.21,329.53 96.15,329.60 96.09,329.66 96.03,329.73 95.97,329.80 95.91,329.86 95.85,329.93 95.79,329.99 95.73,330.05 95.67,330.12 95.61,330.18 95.55,330.24 95.49,330.30 95.43,330.36 95.37,330.42 95.31,330.48 95.25,330.54 95.19,330.60 95.13,330.65 95.06,330.71 94.31,331.38 93.55,331.97 92.80,332.50 92.04,332.98 91.29,333.41 90.53,333.81 89.78,334.17 89.02,334.50 88.27,334.81 87.51,335.09 86.76,335.35 86.00,335.60 85.25,335.82 84.49,336.04 83.74,336.23 82.98,336.42 82.23,336.60 81.47,336.76 80.72,336.92 79.96,337.06 79.21,337.20 78.45,337.33 77.70,337.46 76.94,337.58 76.19,337.69 75.43,337.80 74.68,337.90 73.92,338.00 73.17,338.09 72.41,338.18 71.66,338.27 70.90,338.35 70.15,338.43 69.39,338.51 68.64,338.58 67.88,338.65 67.13,338.72 66.37,338.79 65.62,338.85 64.86,338.91 64.11,338.97 63.35,339.02 62.60,339.08 61.84,339.13 61.09,339.18 60.33,339.23 59.58,339.28 58.82,339.33 58.07,339.37 57.31,339.41 56.56,339.46 55.80,339.50 55.05,339.54 54.29,339.58 53.54,339.61 52.78,339.65 52.03,339.69 51.27,339.72 50.52,339.76 49.76,339.79 49.01,339.82 48.25,339.85 47.50,339.88 46.74,339.91 45.99,339.94 45.23,339.97 44.48,340.00 43.72,340.02 42.97,340.05 42.21,340.07 41.46,340.10 40.70,340.12 39.95,340.15 39.19,340.17 38.44,340.19 37.68,340.22 36.93,340.24 36.17,340.26 35.42,340.28 34.66,340.30 33.91,340.32 33.15,340.34 32.40,340.36 31.64,340.38 30.89,340.40 30.13,340.42 29.38,340.44 28.62,340.45 27.87,340.47 27.11,340.49 26.36,340.50 25.60,340.52 24.85,340.54 24.09,340.55 23.34,340.57 22.58,340.58 21.83,340.60 21.07,340.61 20.32,340.63" fill="none" stroke="#222" stroke-width="1.05"/>
<polyline points="150.30,216.23 150.36,222.60 150.42,228.36 150.48,233.59 150.54,238.36 150.60,242.73 150.66,246.75 150.72,250.46 150.78,253.89 150.84,257.07 150.90,260.03 150.97,262.79 151.03,265.37 151.09,267.79 151.15,270.07 151.21,272.20 151.27,274.22 151.33,276.12 151.39,277.92 151.45,279.62 151.51,281.24 151.57,282.77 151.63,284.23 151.69,285.62 151.75,286.95 151.81,288.21 151.87,289.42 151.93,290.57 151.99,291.68 152.05,292.73 152.11,293.75 152.17,294.73 152.23,295.66 152.29,296.56 152.35,297.43 152.41,298.26 152.48,299.06 152.54,299.84 152.60,300.59 152.66,301.31 152.72,302.00 152.78,302.68 152.84,303.33 152.90,303.96 152.96,304.57 153.02,305.16 153.08,305.73 153.14,306.29 153.20,306.83 153.26,307.35 153.32,307.86 153.38,308.35 153.44,308.83 153.50,309.30 153.56,309.75 153.62,310.19 153.68,310.62 153.74,311.04 153.80,311.44 153.86,311.84 153.92,312.23 153.99,312.60 154.05,312.97 154.11,313.33 154.17,313.68 154.23,314.02 154.29,314.35 154.35,314.68 154.41,315.00 154.47,315.31 154.53,315.61 154.59,315.91 154.65,316.20 154.71,316.48 154.77,316.76 154.83,317.03 154.89,317.30 154.95,317.56 155.01,317.81 155.07,318.06 155.13,318.31 155.19,318.55 155.25,318.78 155.31,319.02 155.37,319.24 155.43,319.46 155.50,319.68 155.56,319.89 155.62,320.10 155.68,320.31 155.74,320.51 155.80,320.71 155.86,320.90 155.92,321.10 155.98,321.28 156.04,321.47 156.10,321.65 156.16,321.83 156.22,322.00 156.28,322.17 156.34,322.34 156.40,322.51 156.46,322.67 156.52,322.83 156.58,322.99 156.64,323.15 156.70,323.30 156.76,323.45 156.82,323.60 156.88,323.75 156.94,323.89 157.01,324.03 157.07,324.17 157.13,324.31 157.19,324.44 157.25,324.58 157.31,324.71 157.37,324.84 157.43,324.97 157.49,325.09 157.55,325.21 157.61,325.34 157.67,325.46 157.73,325.58 157.79,325.69 157.85,325.81 157.91,325.92 157.97,326.03 158.03,326.14 158.09,326.25 158.15,326.36 158.21,326.47 158.27,326.57 158.33,326.68 158.39,326.78 158.45,326.88 158.52,326.98 158.58,327.08 158.64,327.17 158.70,327.27 158.76,327.36 158.82,327.46 158.88,327.55 158.94,327.64 159.00,327.73 159.06,327.82 159.12,327.91 159.18,327.99 159.24,328.08 159.30,328.16 159.36,328.25 159.42,328.33 159.48,328.41 159.54,328.49 159.60,328.57 159.66,328.65 159.72,328.73 159.78,328.80 159.84,328.88 159.90,328.96 159.96,329.03 160.03,329.10 160.09,329.18 160.15,329.25 160.21,329.32 160.27,329.39 160.33,329.46 160.39,329.53 160.45,329.60 160.51,329.66 160.57,329.73 160.63,329.80 160.69,329.86 160.75,329.93 160.81,329.99 160.87,330.05 160.93,330.12 160.99,330.18 161.05,330.24 161.11,330.30 161.17,330.36 161.23,330.42 161.29,330.48 161.35,330.54 161.41,330.60 161.47,330.65 161.54,330.71 162.29,331.38 163.05,331.97 163.80,332.50 164.56,332.98 165.31,333.41 166.07,333.81 166.82,334.17 167.58,334.50 168.33,334.81 169.09,335.09 169.84,335.35 170.60,335.60 171.35,335.82 172.11,336.04 172.86,336.23 173.62,336.42 174.37,336.60 175.13,336.76 175.88,336.92 176.64,337.06 177.39,337.20 178.15,337.33 178.90,337.46 179.66,337.58 180.41,337.69 181.17,337.80 181.92,337.90 182.68,338.00 183.43,338.09 184.19,338.18 184.94,338.27 185.70,338.35 186.45,338.43 187.21,338.51 187.96,338.58 188.72,338.65 189.47,338.72 190.23,338.79 190.98,338.85 191.74,338.91 192.49,338.97 193.25,339.02 194.00,339.08 194.76,339.13 195.51,339.18 196.27,339.23 197.02,339.28 197.78,339.33 198.53,339.37 199.29,339.41 200.04,339.46 200.80,339.50 201.55,339.54 202.31,339.58 203.06,339.61 203.82,339.65 204.57,339.69 205.33,339.72 206.08,339.76 206.84,339.79 207.59,339.82 208.35,339.85 209.10,339.88 209.86,339.91 210.61,339.94 211.37,339.97 212.12,340.00 212.88,340.02 213.63,340.05 214.39,340.07 215.14,340.10 215.90,340.12 216.65,340.15 217.41,340.17 218.16,340.19 218.92,340.22 219.67,340.24 220.43,340.26 221.18,340.28 221.94,340.30 222.69,340.32 223.45,340.34 224.20,340.36 224.96,340.38 225.71,340.40 226.47,340.42 227.22,340.44 227.98,340.45 228.73,340.47 229.49,340.49 230.24,340.50 231.00,340.52 231.75,340.54 232.51,340.55 233.26,340.57 234.02,340.58 234.77,340.60 235.53,340.61 236.28,340.63" fill="none" stroke="#222" stroke-width="1.05"/>
<path d="M96.9,235.8h3.2M98.5,234.2v3.2M98.8,236.5h3.2M100.4,234.9v3.2M83.9,242.8h3.2M85.5,241.2v3.2M74.3,245.9h3.2M75.9,244.3v3.2M78.4,255.5h3.2M80.0,253.9v3.2M87.2,257.9h3.2M88.8,256.3v3.2M92.8,258.7h3.2M94.4,257.1v3.2M100.5,258.4h3.2M102.1,256.8v3.2M97.8,263.0h3.2M99.4,261.4v3.2M80.0,266.3h3.2M81.6,264.7v3.2M84.8,267.8h3.2M86.4,266.2v3.2M82.9,272.0h3.2M84.5,270.4v3.2M87.7,274.4h3.2M89.3,272.8v3.2M95.9,275.2h3.2M97.5,273.6v3.2M101.2,271.3h3.2M102.8,269.7v3.2M62.2,267.5h3.2M63.8,265.9v3.2M62.7,279.5h3.2M64.3,277.9v3.2M66.9,279.2h3.2M68.5,277.6v3.2M59.8,283.8h3.2M61.4,282.2v3.2M84.8,284.1h3.2M86.4,282.5v3.2M91.9,282.4h3.2M93.5,280.8v3.2M92.1,288.2h3.2M93.7,286.6v3.2M99.3,278.0h3.2M100.9,276.4v3.2M100.7,283.8h3.2M102.3,282.2v3.2M100.2,287.7h3.2M101.8,286.1v3.2M83.9,289.8h3.2M85.5,288.2v3.2M89.4,292.2h3.2M91.0,290.6v3.2M94.0,292.2h3.2M95.6,290.6v3.2M99.7,289.3h3.2M101.3,287.7v3.2M97.8,294.6h3.2M99.4,293.0v3.2M84.4,297.5h3.2M86.0,295.9v3.2M87.2,299.9h3.2M88.8,298.3v3.2M86.3,298.0h3.2M87.9,296.4v3.2M93.0,301.8h3.2M94.6,300.2v3.2M99.7,299.0h3.2M101.3,297.4v3.2M81.4,304.7h3.2M83.0,303.1v3.2M92.1,305.2h3.2M93.7,303.6v3.2M93.0,307.6h3.2M94.6,306.0v3.2M99.3,304.2h3.2M100.9,302.6v3.2M101.2,308.6h3.2M102.8,307.0v3.2M81.0,310.5h3.2M82.6,308.9v3.2M81.4,312.9h3.2M83.0,311.3v3.2M67.1,312.4h3.2M68.7,310.8v3.2M91.6,313.8h3.2M93.2,312.2v3.2M94.4,313.8h3.2M96.0,312.2v3.2M98.3,313.4h3.2M99.9,311.8v3.2M87.2,316.7h3.2M88.8,315.1v3.2M83.9,324.0h3.2M85.5,322.4v3.2M92.1,323.5h3.2M93.7,321.9v3.2M95.4,321.0h3.2M97.0,319.4v3.2M87.7,326.3h3.2M89.3,324.7v3.2M89.7,328.3h3.2M91.2,326.7v3.2M95.9,327.3h3.2M97.5,325.7v3.2M89.2,332.1h3.2M90.8,330.5v3.2M45.9,237.5h3.2M47.5,235.9v3.2M52.1,266.2h3.2M53.8,264.6v3.2M28.9,273.2h3.2M30.5,271.6v3.2M102.4,318.0h3.2M104.0,316.4v3.2M101.9,296.0h3.2M103.5,294.4v3.2M102.9,281.0h3.2M104.5,279.4v3.2M102.6,266.0h3.2M104.2,264.4v3.2" stroke="#484882" stroke-width="0.7" fill="none"/>
<path d="M152.6,248.2h3.2M154.2,246.6v3.2M168.2,250.0h3.2M169.8,248.4v3.2M192.8,248.5h3.2M194.4,246.9v3.2M153.8,263.2h3.2M155.4,261.6v3.2M158.4,265.0h3.2M160.0,263.4v3.2M178.6,261.4h3.2M180.2,259.8v3.2M182.6,266.1h3.2M184.2,264.5v3.2M156.1,268.1h3.2M157.7,266.5v3.2M158.2,271.5h3.2M159.8,269.9v3.2M169.4,270.6h3.2M171.0,269.0v3.2M175.7,269.8h3.2M177.3,268.2v3.2M149.7,273.6h3.2M151.3,272.0v3.2M151.4,276.1h3.2M153.0,274.5v3.2M167.6,275.2h3.2M169.2,273.6v3.2M172.8,275.6h3.2M174.4,274.0v3.2M151.7,280.8h3.2M153.3,279.2v3.2M157.0,281.7h3.2M158.6,280.1v3.2M176.8,283.3h3.2M178.4,281.7v3.2M187.0,282.5h3.2M188.6,280.9v3.2M166.5,286.3h3.2M168.1,284.7v3.2M171.7,285.1h3.2M173.3,283.5v3.2M150.3,288.2h3.2M151.9,286.6v3.2M169.9,292.7h3.2M171.5,291.1v3.2M167.0,295.0h3.2M168.6,293.4v3.2M153.2,295.0h3.2M154.8,293.4v3.2M156.1,295.6h3.2M157.7,294.0v3.2M161.3,298.2h3.2M162.9,296.6v3.2M179.2,298.5h3.2M180.8,296.9v3.2M163.6,301.9h3.2M165.2,300.3v3.2M167.6,303.6h3.2M169.2,302.0v3.2M155.5,304.5h3.2M157.1,302.9v3.2M184.4,304.8h3.2M186.0,303.2v3.2M162.4,309.4h3.2M164.0,307.8v3.2M159.5,312.9h3.2M161.1,311.3v3.2M174.5,313.4h3.2M176.1,311.8v3.2M176.3,312.3h3.2M177.9,310.7v3.2M156.1,322.1h3.2M157.7,320.5v3.2M164.7,323.8h3.2M166.3,322.2v3.2M158.4,326.4h3.2M160.0,324.8v3.2M223.4,225.8h3.2M225.0,224.2v3.2" stroke="#864450" stroke-width="0.7" fill="none"/>
<text x="48.50" y="225.32" font-size="8.2" text-anchor="middle" fill="#2c2c8c" stroke="#2c2c8c" >Complement</text>
<text x="48.00" y="233.62" font-size="8.2" text-anchor="middle" fill="#2c2c8c" stroke="#2c2c8c" >factor H</text>
<text x="39.50" y="262.32" font-size="8.2" text-anchor="start" fill="#2c2c8c" stroke="#2c2c8c" >WISP-1</text>
<text x="18.60" y="268.92" font-size="8.2" text-anchor="start" fill="#2c2c8c" stroke="#2c2c8c" >ANG-1</text>
<text x="52.50" y="276.12" font-size="8.2" text-anchor="start" fill="#2c2c8c" stroke="#2c2c8c" >HEXB</text>
<text x="26.20" y="285.12" font-size="8.2" text-anchor="start" fill="#2c2c8c" stroke="#2c2c8c" >VILIP-3</text>
<text x="204.60" y="222.22" font-size="8.2" text-anchor="start" fill="#9a2a2a" stroke="#9a2a2a" >Tenascin-C</text>
<text x="184.30" y="244.62" font-size="8.2" text-anchor="start" fill="#9a2a2a" stroke="#9a2a2a" >PAI-1</text>
<text x="298.80" y="195.32" font-size="8.2" text-anchor="start" fill="#444" stroke="#444" >Enriched in</text>
<text x="298.80" y="203.42" font-size="8.2" text-anchor="start" fill="#444" stroke="#444" >A1 Null</text>
<line x1="300.5" y1="207.2" x2="313" y2="207.2" stroke="#777" stroke-width="0.7"/>
<path d="M298.5,207.2 L301.5,205.89999999999998 L301.5,208.5 Z" fill="#777"/>
<text x="504.60" y="195.12" font-size="8.2" text-anchor="end" fill="#444" stroke="#444" >Enriched in</text>
<text x="504.60" y="203.42" font-size="8.2" text-anchor="end" fill="#444" stroke="#444" >A1 WT</text>
<line x1="491" y1="207.2" x2="503.5" y2="207.2" stroke="#777" stroke-width="0.7"/>
<path d="M505.5,207.2 L502.5,205.89999999999998 L502.5,208.5 Z" fill="#777"/>
<line x1="293.8" y1="210" x2="293.8" y2="349" stroke="#bdbdbd" stroke-width="0.7"/>
<line x1="293.8" y1="349" x2="512" y2="349" stroke="#bdbdbd" stroke-width="0.7"/>
<text x="290.80" y="229.82" font-size="8.2" text-anchor="end" fill="#222" stroke="#222" >0.4</text>
<line x1="293.8" y1="227.0" x2="295.3" y2="227.0" stroke="#bdbdbd" stroke-width="0.6"/>
<text x="290.80" y="260.32" font-size="8.2" text-anchor="end" fill="#222" stroke="#222" >0.3</text>
<line x1="293.8" y1="257.5" x2="295.3" y2="257.5" stroke="#bdbdbd" stroke-width="0.6"/>
<text x="290.80" y="290.82" font-size="8.2" text-anchor="end" fill="#222" stroke="#222" >0.2</text>
<line x1="293.8" y1="288.0" x2="295.3" y2="288.0" stroke="#bdbdbd" stroke-width="0.6"/>
<text x="290.80" y="321.32" font-size="8.2" text-anchor="end" fill="#222" stroke="#222" >0.1</text>
<line x1="293.8" y1="318.5" x2="295.3" y2="318.5" stroke="#bdbdbd" stroke-width="0.6"/>
<text x="290.80" y="351.82" font-size="8.2" text-anchor="end" fill="#222" stroke="#222" >0</text>
<line x1="293.8" y1="349.0" x2="295.3" y2="349.0" stroke="#bdbdbd" stroke-width="0.6"/>
<text x="309.80" y="360.42" font-size="8.2" text-anchor="middle" fill="#222" stroke="#222" >–6</text>
<line x1="311.7" y1="349" x2="311.7" y2="350.5" stroke="#bdbdbd" stroke-width="0.6"/>
<text x="340.00" y="360.42" font-size="8.2" text-anchor="middle" fill="#222" stroke="#222" >–4</text>
<line x1="341.9" y1="349" x2="341.9" y2="350.5" stroke="#bdbdbd" stroke-width="0.6"/>
<text x="370.20" y="360.42" font-size="8.2" text-anchor="middle" fill="#222" stroke="#222" >–2</text>
<line x1="372.1" y1="349" x2="372.1" y2="350.5" stroke="#bdbdbd" stroke-width="0.6"/>
<text x="402.30" y="360.42" font-size="8.2" text-anchor="middle" fill="#222" stroke="#222" >0</text>
<line x1="402.3" y1="349" x2="402.3" y2="350.5" stroke="#bdbdbd" stroke-width="0.6"/>
<text x="432.50" y="360.42" font-size="8.2" text-anchor="middle" fill="#222" stroke="#222" >2</text>
<line x1="432.5" y1="349" x2="432.5" y2="350.5" stroke="#bdbdbd" stroke-width="0.6"/>
<text x="462.70" y="360.42" font-size="8.2" text-anchor="middle" fill="#222" stroke="#222" >4</text>
<line x1="462.7" y1="349" x2="462.7" y2="350.5" stroke="#bdbdbd" stroke-width="0.6"/>
<text x="492.90" y="360.42" font-size="8.2" text-anchor="middle" fill="#222" stroke="#222" >6</text>
<line x1="492.9" y1="349" x2="492.9" y2="350.5" stroke="#bdbdbd" stroke-width="0.6"/>
<text x="402.0" y="372.02" font-size="8.2" text-anchor="middle" fill="#222" stroke="#222">Log<tspan font-size="5" dy="1.6">2</tspan><tspan dy="-1.6"> (WT/null)</tspan></text>
<text transform="translate(273.93,276.7) rotate(-90)" font-size="7.95" text-anchor="middle" fill="#222" stroke="#222">Clustering coefficient</text>
<path d="M325.9,226.8h3.2M327.5,225.2v3.2M358.9,226.8h3.2M360.5,225.2v3.2M372.4,228.0h3.2M374.0,226.4v3.2M365.9,237.5h3.2M367.5,235.9v3.2M358.1,241.7h3.2M359.7,240.1v3.2M356.4,246.9h3.2M358.0,245.3v3.2M355.5,250.4h3.2M357.1,248.8v3.2M360.7,251.2h3.2M362.3,249.6v3.2M359.0,253.5h3.2M360.6,251.9v3.2M340.8,253.8h3.2M342.4,252.2v3.2M340.8,257.3h3.2M342.4,255.7v3.2M355.5,256.4h3.2M357.1,254.8v3.2M361.5,256.4h3.2M363.1,254.8v3.2M302.7,266.8h3.2M304.3,265.2v3.2M374.5,260.4h3.2M376.1,258.8v3.2M373.7,261.6h3.2M375.3,260.0v3.2M366.7,264.2h3.2M368.3,262.6v3.2M362.4,266.3h3.2M364.0,264.7v3.2M368.5,268.0h3.2M370.1,266.4v3.2M367.6,271.1h3.2M369.2,269.5v3.2M372.8,268.5h3.2M374.4,266.9v3.2M375.4,269.8h3.2M377.0,268.2v3.2M320.9,278.1h3.2M322.5,276.5v3.2M336.5,278.4h3.2M338.1,276.8v3.2M336.5,279.8h3.2M338.1,278.2v3.2M353.8,273.7h3.2M355.4,272.1v3.2M352.9,276.3h3.2M354.5,274.7v3.2M356.4,280.7h3.2M358.0,279.1v3.2M359.8,280.1h3.2M361.4,278.5v3.2M365.9,281.5h3.2M367.5,279.9v3.2M369.3,281.5h3.2M370.9,279.9v3.2M374.5,275.5h3.2M376.1,273.9v3.2M375.4,277.2h3.2M377.0,275.6v3.2M363.3,277.2h3.2M364.9,275.6v3.2M367.6,283.3h3.2M369.2,281.7v3.2M371.1,284.1h3.2M372.7,282.5v3.2M374.5,283.3h3.2M376.1,281.7v3.2M377.1,286.7h3.2M378.7,285.1v3.2M363.3,288.4h3.2M364.9,286.8v3.2M365.0,291.0h3.2M366.6,289.4v3.2M369.3,291.0h3.2M370.9,289.4v3.2M372.8,289.3h3.2M374.4,287.7v3.2M333.9,288.1h3.2M335.5,286.5v3.2M366.7,293.6h3.2M368.3,292.0v3.2M371.9,294.5h3.2M373.5,292.9v3.2M358.1,298.0h3.2M359.7,296.4v3.2M361.5,295.4h3.2M363.1,293.8v3.2M348.6,299.3h3.2M350.2,297.7v3.2M365.9,303.1h3.2M367.5,301.5v3.2M370.2,301.4h3.2M371.8,299.8v3.2M373.7,310.1h3.2M375.3,308.5v3.2M360.9,349.0h3.2M362.5,347.4v3.2M371.4,349.0h3.2M373.0,347.4v3.2M374.4,349.0h3.2M376.0,347.4v3.2" stroke="#484882" stroke-width="0.7" fill="none"/>
<path d="M451.4,220.8h3.2M453.0,219.2v3.2M458.9,220.0h3.2M460.5,218.4v3.2M466.4,235.5h3.2M468.0,233.9v3.2M497.4,239.0h3.2M499.0,237.4v3.2M425.2,241.5h3.2M426.8,239.9v3.2M466.3,235.7h3.2M467.9,234.1v3.2M423.2,248.9h3.2M424.8,247.3v3.2M442.0,247.4h3.2M443.6,245.8v3.2M432.6,251.8h3.2M434.2,250.2v3.2M423.9,255.9h3.2M425.5,254.3v3.2M428.6,257.2h3.2M430.2,255.6v3.2M433.3,256.8h3.2M434.9,255.2v3.2M442.7,259.2h3.2M444.3,257.6v3.2M448.8,260.6h3.2M450.4,259.0v3.2M447.4,262.6h3.2M449.0,261.0v3.2M441.4,263.9h3.2M443.0,262.3v3.2M440.7,268.0h3.2M442.3,266.4v3.2M424.6,267.3h3.2M426.2,265.7v3.2M425.9,270.7h3.2M427.5,269.1v3.2M431.3,269.7h3.2M432.9,268.1v3.2M438.0,271.1h3.2M439.6,269.5v3.2M428.6,274.0h3.2M430.2,272.4v3.2M436.0,275.4h3.2M437.6,273.8v3.2M425.9,277.4h3.2M427.5,275.8v3.2M427.9,276.0h3.2M429.5,274.4v3.2M432.0,282.1h3.2M433.6,280.5v3.2M435.3,281.4h3.2M436.9,279.8v3.2M426.6,283.7h3.2M428.2,282.1v3.2M429.9,284.5h3.2M431.5,282.9v3.2M452.8,285.1h3.2M454.4,283.5v3.2M460.9,287.9h3.2M462.5,286.3v3.2M436.7,288.2h3.2M438.3,286.6v3.2M439.4,289.5h3.2M441.0,287.9v3.2M443.4,286.8h3.2M445.0,285.2v3.2M430.6,293.1h3.2M432.2,291.5v3.2M441.4,294.2h3.2M443.0,292.6v3.2M442.0,295.8h3.2M443.6,294.2v3.2M452.8,301.6h3.2M454.4,300.0v3.2M450.8,303.6h3.2M452.4,302.0v3.2M425.4,318.7h3.2M427.0,317.1v3.2M430.1,349.0h3.2M431.7,347.4v3.2M445.7,349.0h3.2M447.3,347.4v3.2M456.4,349.0h3.2M458.0,347.4v3.2" stroke="#864450" stroke-width="0.7" fill="none"/>
<text x="313.00" y="222.82" font-size="8.2" text-anchor="start" fill="#2c2c8c" stroke="#2c2c8c" >WISP-1</text>
<text x="360.60" y="213.82" font-size="8.2" text-anchor="middle" fill="#2c2c8c" stroke="#2c2c8c" >Collagen</text>
<text x="360.60" y="222.42" font-size="8.2" text-anchor="middle" fill="#2c2c8c" stroke="#2c2c8c" >type III</text>
<text x="336.00" y="236.82" font-size="8.2" text-anchor="start" fill="#2c2c8c" stroke="#2c2c8c" >YKT6</text>
<text x="367.50" y="247.42" font-size="8.2" text-anchor="start" fill="#2c2c8c" stroke="#2c2c8c" >SUMO-3</text>
<path d="M356.5,234.5 L366,237.5 M375.5,230 L383,239.5" stroke="#c4c4c4" stroke-width="0.5" fill="none"/>
<text x="410.50" y="217.82" font-size="8.2" text-anchor="start" fill="#9a2a2a" stroke="#9a2a2a" >β-GC</text>
<text x="434.50" y="216.02" font-size="8.2" text-anchor="start" fill="#9a2a2a" stroke="#9a2a2a" >Photomedin-2</text>
<text x="427.00" y="229.62" font-size="8.2" text-anchor="middle" fill="#9a2a2a" stroke="#9a2a2a" >Thrombo-</text>
<text x="427.00" y="238.02" font-size="8.2" text-anchor="middle" fill="#9a2a2a" stroke="#9a2a2a" >spondin-1</text>
<text x="458.00" y="230.42" font-size="8.2" text-anchor="start" fill="#9a2a2a" stroke="#9a2a2a" >PAI-1</text>
<text x="478.00" y="235.42" font-size="8.2" text-anchor="start" fill="#9a2a2a" stroke="#9a2a2a" >Tenascin-C</text>
<path d="M432,216.5 L452,220.5" stroke="#bbb" stroke-width="0.5" fill="none"/>
<g fill="none">
<line x1="204.8" y1="418.1" x2="117.5" y2="441.3" stroke="#e0e0da" stroke-width="0.55"/>
<line x1="204.8" y1="418.1" x2="173.6" y2="470.4" stroke="#e4d6c8" stroke-width="0.55"/>
<line x1="204.8" y1="418.1" x2="210.5" y2="474.2" stroke="#d8e4d0" stroke-width="0.75"/>
<line x1="204.8" y1="418.1" x2="243.8" y2="472.0" stroke="#d8e4d0" stroke-width="0.65"/>
<line x1="204.8" y1="418.1" x2="140.8" y2="487.0" stroke="#e4d6c8" stroke-width="0.75"/>
<line x1="204.8" y1="418.1" x2="196.3" y2="507.5" stroke="#e4d6c8" stroke-width="0.65"/>
<line x1="204.8" y1="418.1" x2="235.0" y2="505.8" stroke="#e4d6c8" stroke-width="0.65"/>
<line x1="204.8" y1="418.1" x2="265.0" y2="515.0" stroke="#d8e4d0" stroke-width="0.55"/>
<line x1="204.8" y1="418.1" x2="159.3" y2="517.0" stroke="#d8e4d0" stroke-width="0.65"/>
<line x1="204.8" y1="418.1" x2="222.1" y2="542.7" stroke="#e0e0da" stroke-width="0.55"/>
<line x1="204.8" y1="418.1" x2="179.5" y2="537.0" stroke="#d8e4d0" stroke-width="0.55"/>
<line x1="117.5" y1="441.3" x2="60.0" y2="480.0" stroke="#e2ecdc" stroke-width="0.6"/>
<line x1="117.5" y1="441.3" x2="173.6" y2="470.4" stroke="#e0e0da" stroke-width="0.75"/>
<line x1="117.5" y1="441.3" x2="210.5" y2="474.2" stroke="#e0ead8" stroke-width="0.6"/>
<line x1="117.5" y1="441.3" x2="140.8" y2="487.0" stroke="#e0e0da" stroke-width="0.75"/>
<line x1="117.5" y1="441.3" x2="112.5" y2="500.0" stroke="#e4d6c8" stroke-width="0.75"/>
<line x1="117.5" y1="441.3" x2="159.3" y2="517.0" stroke="#e4d6c8" stroke-width="0.55"/>
<line x1="117.5" y1="441.3" x2="67.0" y2="536.8" stroke="#d8e4d0" stroke-width="0.55"/>
<line x1="117.5" y1="441.3" x2="120.0" y2="539.0" stroke="#d8e4d0" stroke-width="0.55"/>
<line x1="117.5" y1="441.3" x2="179.5" y2="537.0" stroke="#e6ccb6" stroke-width="0.75" stroke-dasharray="1.2,1"/>
<line x1="60.0" y1="480.0" x2="173.6" y2="470.4" stroke="#e6e6e6" stroke-width="0.6"/>
<line x1="60.0" y1="480.0" x2="140.8" y2="487.0" stroke="#e0ead8" stroke-width="0.6"/>
<line x1="60.0" y1="480.0" x2="112.5" y2="500.0" stroke="#e4d6c8" stroke-width="0.65"/>
<line x1="60.0" y1="480.0" x2="159.3" y2="517.0" stroke="#e4d6c8" stroke-width="0.75"/>
<line x1="60.0" y1="480.0" x2="67.0" y2="536.8" stroke="#d8e4d0" stroke-width="0.75"/>
<line x1="60.0" y1="480.0" x2="120.0" y2="539.0" stroke="#e6ccb6" stroke-width="0.55" stroke-dasharray="1.2,1"/>
<line x1="60.0" y1="480.0" x2="179.5" y2="537.0" stroke="#e0e0da" stroke-width="0.55"/>
<line x1="60.0" y1="480.0" x2="13.8" y2="543.8" stroke="#e0ead8" stroke-width="0.6"/>
<line x1="60.0" y1="480.0" x2="162.5" y2="560.8" stroke="#e0e0da" stroke-width="0.65"/>
<line x1="60.0" y1="480.0" x2="93.8" y2="571.8" stroke="#e0e0da" stroke-width="0.65"/>
<line x1="173.6" y1="470.4" x2="243.8" y2="472.0" stroke="#cde0c0" stroke-width="0.8"/>
<line x1="173.6" y1="470.4" x2="318.5" y2="485.4" stroke="#e6ccb6" stroke-width="0.65" stroke-dasharray="1.2,1"/>
<line x1="173.6" y1="470.4" x2="140.8" y2="487.0" stroke="#d2e4c6" stroke-width="0.7"/>
<line x1="173.6" y1="470.4" x2="112.5" y2="500.0" stroke="#ecd8c6" stroke-width="0.8"/>
<line x1="173.6" y1="470.4" x2="196.3" y2="507.5" stroke="#d2e4c6" stroke-width="0.55"/>
<line x1="173.6" y1="470.4" x2="235.0" y2="505.8" stroke="#e0e0e0" stroke-width="0.55"/>
<line x1="173.6" y1="470.4" x2="159.3" y2="517.0" stroke="#e6e6e6" stroke-width="0.6"/>
<line x1="173.6" y1="470.4" x2="120.0" y2="539.0" stroke="#e8d2bc" stroke-width="0.8" stroke-dasharray="1.2,1"/>
<line x1="173.6" y1="470.4" x2="222.1" y2="542.7" stroke="#ecd8c6" stroke-width="0.55"/>
<line x1="173.6" y1="470.4" x2="179.5" y2="537.0" stroke="#ecd8c6" stroke-width="0.8" stroke-dasharray="1.2,1"/>
<line x1="173.6" y1="470.4" x2="162.5" y2="560.8" stroke="#e8d2bc" stroke-width="0.55" stroke-dasharray="1.2,1"/>
<line x1="173.6" y1="470.4" x2="200.0" y2="572.0" stroke="#cde0c0" stroke-width="0.55"/>
<line x1="173.6" y1="470.4" x2="240.8" y2="580.0" stroke="#cde0c0" stroke-width="0.8"/>
<line x1="173.6" y1="470.4" x2="138.8" y2="580.8" stroke="#e0e0e0" stroke-width="0.8"/>
<line x1="173.6" y1="470.4" x2="190.5" y2="598.3" stroke="#e0e0e0" stroke-width="0.55"/>
<line x1="210.5" y1="474.2" x2="243.8" y2="472.0" stroke="#e8d2bc" stroke-width="0.55" stroke-dasharray="1.2,1"/>
<line x1="210.5" y1="474.2" x2="318.5" y2="485.4" stroke="#e0e0da" stroke-width="0.75"/>
<line x1="210.5" y1="474.2" x2="140.8" y2="487.0" stroke="#dde6ee" stroke-width="0.55"/>
<line x1="210.5" y1="474.2" x2="112.5" y2="500.0" stroke="#d2e4c6" stroke-width="0.8"/>
<line x1="210.5" y1="474.2" x2="196.3" y2="507.5" stroke="#cde0c0" stroke-width="0.8"/>
<line x1="210.5" y1="474.2" x2="235.0" y2="505.8" stroke="#e8d2bc" stroke-width="0.8"/>
<line x1="210.5" y1="474.2" x2="159.3" y2="517.0" stroke="#cde0c0" stroke-width="0.8"/>
<line x1="210.5" y1="474.2" x2="120.0" y2="539.0" stroke="#e0e0e0" stroke-width="0.7"/>
<line x1="210.5" y1="474.2" x2="222.1" y2="542.7" stroke="#cde0c0" stroke-width="0.8"/>
<line x1="210.5" y1="474.2" x2="179.5" y2="537.0" stroke="#e0e0e0" stroke-width="0.55"/>
<line x1="210.5" y1="474.2" x2="266.3" y2="550.8" stroke="#e0e0e0" stroke-width="0.7"/>
<line x1="210.5" y1="474.2" x2="162.5" y2="560.8" stroke="#e0ead8" stroke-width="0.6"/>
<line x1="210.5" y1="474.2" x2="200.0" y2="572.0" stroke="#cde0c0" stroke-width="0.8"/>
<line x1="210.5" y1="474.2" x2="240.8" y2="580.0" stroke="#e8d2bc" stroke-width="0.7"/>
<line x1="210.5" y1="474.2" x2="138.8" y2="580.8" stroke="#cde0c0" stroke-width="0.8"/>
<line x1="210.5" y1="474.2" x2="190.5" y2="598.3" stroke="#cde0c0" stroke-width="0.55"/>
<line x1="243.8" y1="472.0" x2="318.5" y2="485.4" stroke="#e6ccb6" stroke-width="0.65" stroke-dasharray="1.2,1"/>
<line x1="243.8" y1="472.0" x2="140.8" y2="487.0" stroke="#cde0c0" stroke-width="0.55"/>
<line x1="243.8" y1="472.0" x2="196.3" y2="507.5" stroke="#d8e8ce" stroke-width="0.55"/>
<line x1="243.8" y1="472.0" x2="265.0" y2="515.0" stroke="#e0e0da" stroke-width="0.65"/>
<line x1="243.8" y1="472.0" x2="159.3" y2="517.0" stroke="#e6e6e6" stroke-width="0.6"/>
<line x1="243.8" y1="472.0" x2="120.0" y2="539.0" stroke="#ecd8c6" stroke-width="0.55"/>
<line x1="243.8" y1="472.0" x2="222.1" y2="542.7" stroke="#cde0c0" stroke-width="0.55"/>
<line x1="243.8" y1="472.0" x2="179.5" y2="537.0" stroke="#e8d2bc" stroke-width="0.55" stroke-dasharray="1.2,1"/>
<line x1="243.8" y1="472.0" x2="266.3" y2="550.8" stroke="#d8e8ce" stroke-width="0.55"/>
<line x1="243.8" y1="472.0" x2="162.5" y2="560.8" stroke="#e8d2bc" stroke-width="0.8" stroke-dasharray="1.2,1"/>
<line x1="243.8" y1="472.0" x2="200.0" y2="572.0" stroke="#e2ecdc" stroke-width="0.6"/>
<line x1="243.8" y1="472.0" x2="138.8" y2="580.8" stroke="#dde6ee" stroke-width="0.55"/>
<line x1="318.5" y1="485.4" x2="196.3" y2="507.5" stroke="#e6ccb6" stroke-width="0.55" stroke-dasharray="1.2,1"/>
<line x1="318.5" y1="485.4" x2="235.0" y2="505.8" stroke="#e4d6c8" stroke-width="0.75"/>
<line x1="318.5" y1="485.4" x2="265.0" y2="515.0" stroke="#e6ccb6" stroke-width="0.55" stroke-dasharray="1.2,1"/>
<line x1="318.5" y1="485.4" x2="222.1" y2="542.7" stroke="#e4d6c8" stroke-width="0.55"/>
<line x1="318.5" y1="485.4" x2="266.3" y2="550.8" stroke="#e6ccb6" stroke-width="0.55" stroke-dasharray="1.2,1"/>
<line x1="318.5" y1="485.4" x2="240.8" y2="580.0" stroke="#e4d6c8" stroke-width="0.65"/>
<line x1="140.8" y1="487.0" x2="112.5" y2="500.0" stroke="#cde0c0" stroke-width="0.7"/>
<line x1="140.8" y1="487.0" x2="196.3" y2="507.5" stroke="#e6e6e6" stroke-width="0.6"/>
<line x1="140.8" y1="487.0" x2="235.0" y2="505.8" stroke="#e0e0e0" stroke-width="0.8"/>
<line x1="140.8" y1="487.0" x2="159.3" y2="517.0" stroke="#e0e0e0" stroke-width="0.7"/>
<line x1="140.8" y1="487.0" x2="67.0" y2="536.8" stroke="#e2ecdc" stroke-width="0.6"/>
<line x1="140.8" y1="487.0" x2="120.0" y2="539.0" stroke="#cde0c0" stroke-width="0.55"/>
<line x1="140.8" y1="487.0" x2="222.1" y2="542.7" stroke="#dde6ee" stroke-width="0.8"/>
<line x1="140.8" y1="487.0" x2="179.5" y2="537.0" stroke="#cde0c0" stroke-width="0.55"/>
<line x1="140.8" y1="487.0" x2="162.5" y2="560.8" stroke="#cde0c0" stroke-width="0.8"/>
<line x1="140.8" y1="487.0" x2="200.0" y2="572.0" stroke="#d2e4c6" stroke-width="0.7"/>
<line x1="140.8" y1="487.0" x2="240.8" y2="580.0" stroke="#cde0c0" stroke-width="0.8"/>
<line x1="112.5" y1="500.0" x2="196.3" y2="507.5" stroke="#ecd8c6" stroke-width="0.8"/>
<line x1="112.5" y1="500.0" x2="159.3" y2="517.0" stroke="#ecd8c6" stroke-width="0.7" stroke-dasharray="1.2,1"/>
<line x1="112.5" y1="500.0" x2="67.0" y2="536.8" stroke="#d8e4d0" stroke-width="0.75"/>
<line x1="112.5" y1="500.0" x2="120.0" y2="539.0" stroke="#ecd8c6" stroke-width="0.7"/>
<line x1="112.5" y1="500.0" x2="222.1" y2="542.7" stroke="#ecd8c6" stroke-width="0.55" stroke-dasharray="1.2,1"/>
<line x1="112.5" y1="500.0" x2="179.5" y2="537.0" stroke="#d2e4c6" stroke-width="0.7"/>
<line x1="112.5" y1="500.0" x2="162.5" y2="560.8" stroke="#e0e0e0" stroke-width="0.55"/>
<line x1="112.5" y1="500.0" x2="200.0" y2="572.0" stroke="#d8e8ce" stroke-width="0.7"/>
<line x1="112.5" y1="500.0" x2="240.8" y2="580.0" stroke="#ecd8c6" stroke-width="0.7" stroke-dasharray="1.2,1"/>
<line x1="112.5" y1="500.0" x2="138.8" y2="580.8" stroke="#cde0c0" stroke-width="0.55"/>
<line x1="112.5" y1="500.0" x2="190.5" y2="598.3" stroke="#cde0c0" stroke-width="0.7"/>
<line x1="196.3" y1="507.5" x2="235.0" y2="505.8" stroke="#dde6ee" stroke-width="0.8"/>
<line x1="196.3" y1="507.5" x2="159.3" y2="517.0" stroke="#d2e4c6" stroke-width="0.8"/>
<line x1="196.3" y1="507.5" x2="120.0" y2="539.0" stroke="#cde0c0" stroke-width="0.55"/>
<line x1="196.3" y1="507.5" x2="222.1" y2="542.7" stroke="#e0e0e0" stroke-width="0.8"/>
<line x1="196.3" y1="507.5" x2="266.3" y2="550.8" stroke="#e8d2bc" stroke-width="0.55" stroke-dasharray="1.2,1"/>
<line x1="196.3" y1="507.5" x2="162.5" y2="560.8" stroke="#e6e6e6" stroke-width="0.6"/>
<line x1="196.3" y1="507.5" x2="240.8" y2="580.0" stroke="#e0e0e0" stroke-width="0.7"/>
<line x1="196.3" y1="507.5" x2="138.8" y2="580.8" stroke="#d8e8ce" stroke-width="0.55"/>
<line x1="196.3" y1="507.5" x2="190.5" y2="598.3" stroke="#dde6ee" stroke-width="0.8"/>
<line x1="235.0" y1="505.8" x2="265.0" y2="515.0" stroke="#e4d6c8" stroke-width="0.55"/>
<line x1="235.0" y1="505.8" x2="159.3" y2="517.0" stroke="#cde0c0" stroke-width="0.55"/>
<line x1="235.0" y1="505.8" x2="222.1" y2="542.7" stroke="#e8d2bc" stroke-width="0.55"/>
<line x1="235.0" y1="505.8" x2="179.5" y2="537.0" stroke="#e6e6e6" stroke-width="0.6"/>
<line x1="235.0" y1="505.8" x2="266.3" y2="550.8" stroke="#cde0c0" stroke-width="0.8"/>
<line x1="235.0" y1="505.8" x2="162.5" y2="560.8" stroke="#e8d2bc" stroke-width="0.8"/>
<line x1="235.0" y1="505.8" x2="200.0" y2="572.0" stroke="#e8d2bc" stroke-width="0.8" stroke-dasharray="1.2,1"/>
<line x1="235.0" y1="505.8" x2="240.8" y2="580.0" stroke="#e0ead8" stroke-width="0.6"/>
<line x1="235.0" y1="505.8" x2="138.8" y2="580.8" stroke="#e8d2bc" stroke-width="0.7"/>
<line x1="235.0" y1="505.8" x2="190.5" y2="598.3" stroke="#d8e8ce" stroke-width="0.8"/>
<line x1="265.0" y1="515.0" x2="222.1" y2="542.7" stroke="#e0e0da" stroke-width="0.65"/>
<line x1="265.0" y1="515.0" x2="179.5" y2="537.0" stroke="#eee2d6" stroke-width="0.6"/>
<line x1="265.0" y1="515.0" x2="266.3" y2="550.8" stroke="#e0e0da" stroke-width="0.65"/>
<line x1="265.0" y1="515.0" x2="200.0" y2="572.0" stroke="#eee2d6" stroke-width="0.6"/>
<line x1="265.0" y1="515.0" x2="240.8" y2="580.0" stroke="#e0e0da" stroke-width="0.75"/>
<line x1="265.0" y1="515.0" x2="268.5" y2="620.3" stroke="#e2ecdc" stroke-width="0.6"/>
<line x1="159.3" y1="517.0" x2="67.0" y2="536.8" stroke="#e6ccb6" stroke-width="0.55" stroke-dasharray="1.2,1"/>
<line x1="159.3" y1="517.0" x2="120.0" y2="539.0" stroke="#ecd8c6" stroke-width="0.7" stroke-dasharray="1.2,1"/>
<line x1="159.3" y1="517.0" x2="222.1" y2="542.7" stroke="#d8e8ce" stroke-width="0.8"/>
<line x1="159.3" y1="517.0" x2="179.5" y2="537.0" stroke="#dde6ee" stroke-width="0.55"/>
<line x1="159.3" y1="517.0" x2="266.3" y2="550.8" stroke="#ecd8c6" stroke-width="0.7" stroke-dasharray="1.2,1"/>
<line x1="159.3" y1="517.0" x2="162.5" y2="560.8" stroke="#e8d2bc" stroke-width="0.55"/>
<line x1="159.3" y1="517.0" x2="93.8" y2="571.8" stroke="#e4d6c8" stroke-width="0.65"/>
<line x1="159.3" y1="517.0" x2="240.8" y2="580.0" stroke="#e8d2bc" stroke-width="0.7"/>
<line x1="159.3" y1="517.0" x2="138.8" y2="580.8" stroke="#e8d2bc" stroke-width="0.55"/>
<line x1="159.3" y1="517.0" x2="155.5" y2="620.5" stroke="#e0ead8" stroke-width="0.6"/>
<line x1="67.0" y1="536.8" x2="179.5" y2="537.0" stroke="#e0ead8" stroke-width="0.6"/>
<line x1="67.0" y1="536.8" x2="13.8" y2="543.8" stroke="#e0e0da" stroke-width="0.55"/>
<line x1="67.0" y1="536.8" x2="162.5" y2="560.8" stroke="#d8e4d0" stroke-width="0.55"/>
<line x1="67.0" y1="536.8" x2="93.8" y2="571.8" stroke="#e4d6c8" stroke-width="0.75"/>
<line x1="67.0" y1="536.8" x2="138.8" y2="580.8" stroke="#e2ecdc" stroke-width="0.6"/>
<line x1="67.0" y1="536.8" x2="122.0" y2="606.8" stroke="#e6ccb6" stroke-width="0.55" stroke-dasharray="1.2,1"/>
<line x1="67.0" y1="536.8" x2="82.0" y2="614.3" stroke="#d8e4d0" stroke-width="0.55"/>
<line x1="120.0" y1="539.0" x2="222.1" y2="542.7" stroke="#cde0c0" stroke-width="0.55"/>
<line x1="120.0" y1="539.0" x2="179.5" y2="537.0" stroke="#d2e4c6" stroke-width="0.8"/>
<line x1="120.0" y1="539.0" x2="266.3" y2="550.8" stroke="#e0e0e0" stroke-width="0.55"/>
<line x1="120.0" y1="539.0" x2="13.8" y2="543.8" stroke="#e4d6c8" stroke-width="0.75"/>
<line x1="120.0" y1="539.0" x2="162.5" y2="560.8" stroke="#ecd8c6" stroke-width="0.8" stroke-dasharray="1.2,1"/>
<line x1="120.0" y1="539.0" x2="93.8" y2="571.8" stroke="#e0e0da" stroke-width="0.65"/>
<line x1="120.0" y1="539.0" x2="200.0" y2="572.0" stroke="#dde6ee" stroke-width="0.8"/>
<line x1="120.0" y1="539.0" x2="240.8" y2="580.0" stroke="#d2e4c6" stroke-width="0.7"/>
<line x1="120.0" y1="539.0" x2="138.8" y2="580.8" stroke="#e0e0e0" stroke-width="0.55"/>
<line x1="120.0" y1="539.0" x2="190.5" y2="598.3" stroke="#dde6ee" stroke-width="0.7"/>
<line x1="120.0" y1="539.0" x2="122.0" y2="606.8" stroke="#d8e4d0" stroke-width="0.75"/>
<line x1="120.0" y1="539.0" x2="82.0" y2="614.3" stroke="#e0e0da" stroke-width="0.75"/>
<line x1="120.0" y1="539.0" x2="155.5" y2="620.5" stroke="#e0e0da" stroke-width="0.65"/>
<line x1="120.0" y1="539.0" x2="78.0" y2="649.5" stroke="#e4d6c8" stroke-width="0.75"/>
<line x1="222.1" y1="542.7" x2="179.5" y2="537.0" stroke="#e0e0e0" stroke-width="0.8"/>
<line x1="222.1" y1="542.7" x2="266.3" y2="550.8" stroke="#e0e0e0" stroke-width="0.55"/>
<line x1="222.1" y1="542.7" x2="200.0" y2="572.0" stroke="#d8e8ce" stroke-width="0.55"/>
<line x1="222.1" y1="542.7" x2="240.8" y2="580.0" stroke="#ecd8c6" stroke-width="0.55" stroke-dasharray="1.2,1"/>
<line x1="222.1" y1="542.7" x2="138.8" y2="580.8" stroke="#e0e0e0" stroke-width="0.55"/>
<line x1="222.1" y1="542.7" x2="190.5" y2="598.3" stroke="#d8e8ce" stroke-width="0.7"/>
<line x1="222.1" y1="542.7" x2="223.8" y2="618.8" stroke="#eee2d6" stroke-width="0.6"/>
<line x1="222.1" y1="542.7" x2="268.5" y2="620.3" stroke="#e6ccb6" stroke-width="0.55" stroke-dasharray="1.2,1"/>
<line x1="179.5" y1="537.0" x2="266.3" y2="550.8" stroke="#cde0c0" stroke-width="0.55"/>
<line x1="179.5" y1="537.0" x2="162.5" y2="560.8" stroke="#e0e0e0" stroke-width="0.8"/>
<line x1="179.5" y1="537.0" x2="93.8" y2="571.8" stroke="#e4d6c8" stroke-width="0.55"/>
<line x1="179.5" y1="537.0" x2="138.8" y2="580.8" stroke="#e0e0e0" stroke-width="0.8"/>
<line x1="179.5" y1="537.0" x2="190.5" y2="598.3" stroke="#d8e8ce" stroke-width="0.8"/>
<line x1="179.5" y1="537.0" x2="122.0" y2="606.8" stroke="#eee2d6" stroke-width="0.6"/>
<line x1="179.5" y1="537.0" x2="223.8" y2="618.8" stroke="#e2ecdc" stroke-width="0.6"/>
<line x1="266.3" y1="550.8" x2="200.0" y2="572.0" stroke="#d8e8ce" stroke-width="0.8"/>
<line x1="266.3" y1="550.8" x2="240.8" y2="580.0" stroke="#ecd8c6" stroke-width="0.7" stroke-dasharray="1.2,1"/>
<line x1="266.3" y1="550.8" x2="138.8" y2="580.8" stroke="#e8d2bc" stroke-width="0.8" stroke-dasharray="1.2,1"/>
<line x1="266.3" y1="550.8" x2="190.5" y2="598.3" stroke="#ecd8c6" stroke-width="0.8"/>
<line x1="266.3" y1="550.8" x2="223.8" y2="618.8" stroke="#e6ccb6" stroke-width="0.55" stroke-dasharray="1.2,1"/>
<line x1="266.3" y1="550.8" x2="268.5" y2="620.3" stroke="#e0e0da" stroke-width="0.65"/>
<line x1="266.3" y1="550.8" x2="327.7" y2="616.0" stroke="#e4d6c8" stroke-width="0.65"/>
<line x1="13.8" y1="543.8" x2="93.8" y2="571.8" stroke="#d8e4d0" stroke-width="0.55"/>
<line x1="13.8" y1="543.8" x2="138.8" y2="580.8" stroke="#e6ccb6" stroke-width="0.75" stroke-dasharray="1.2,1"/>
<line x1="13.8" y1="543.8" x2="82.0" y2="614.3" stroke="#d8e4d0" stroke-width="0.65"/>
<line x1="162.5" y1="560.8" x2="93.8" y2="571.8" stroke="#e4d6c8" stroke-width="0.55"/>
<line x1="162.5" y1="560.8" x2="200.0" y2="572.0" stroke="#cde0c0" stroke-width="0.55"/>
<line x1="162.5" y1="560.8" x2="240.8" y2="580.0" stroke="#e0ead8" stroke-width="0.6"/>
<line x1="162.5" y1="560.8" x2="138.8" y2="580.8" stroke="#cde0c0" stroke-width="0.55"/>
<line x1="162.5" y1="560.8" x2="190.5" y2="598.3" stroke="#cde0c0" stroke-width="0.55"/>
<line x1="162.5" y1="560.8" x2="82.0" y2="614.3" stroke="#e6ccb6" stroke-width="0.75" stroke-dasharray="1.2,1"/>
<line x1="162.5" y1="560.8" x2="155.5" y2="620.5" stroke="#e6ccb6" stroke-width="0.75" stroke-dasharray="1.2,1"/>
<line x1="162.5" y1="560.8" x2="223.8" y2="618.8" stroke="#e6ccb6" stroke-width="0.65" stroke-dasharray="1.2,1"/>
<line x1="162.5" y1="560.8" x2="176.3" y2="648.8" stroke="#e4d6c8" stroke-width="0.75"/>
<line x1="162.5" y1="560.8" x2="129.3" y2="661.3" stroke="#e6ccb6" stroke-width="0.75" stroke-dasharray="1.2,1"/>
<line x1="93.8" y1="571.8" x2="200.0" y2="572.0" stroke="#e2ecdc" stroke-width="0.6"/>
<line x1="93.8" y1="571.8" x2="138.8" y2="580.8" stroke="#d8e4d0" stroke-width="0.55"/>
<line x1="93.8" y1="571.8" x2="190.5" y2="598.3" stroke="#e0ead8" stroke-width="0.6"/>
<line x1="93.8" y1="571.8" x2="122.0" y2="606.8" stroke="#e0e0da" stroke-width="0.75"/>
<line x1="93.8" y1="571.8" x2="82.0" y2="614.3" stroke="#d8e4d0" stroke-width="0.65"/>
<line x1="93.8" y1="571.8" x2="78.0" y2="649.5" stroke="#d8e4d0" stroke-width="0.75"/>
<line x1="93.8" y1="571.8" x2="176.3" y2="648.8" stroke="#e6e6e6" stroke-width="0.6"/>
<line x1="93.8" y1="571.8" x2="129.3" y2="661.3" stroke="#e4d6c8" stroke-width="0.75"/>
<line x1="200.0" y1="572.0" x2="138.8" y2="580.8" stroke="#ecd8c6" stroke-width="0.8"/>
<line x1="200.0" y1="572.0" x2="190.5" y2="598.3" stroke="#e8d2bc" stroke-width="0.7" stroke-dasharray="1.2,1"/>
<line x1="200.0" y1="572.0" x2="155.5" y2="620.5" stroke="#e4d6c8" stroke-width="0.55"/>
<line x1="200.0" y1="572.0" x2="223.8" y2="618.8" stroke="#d8e4d0" stroke-width="0.75"/>
<line x1="200.0" y1="572.0" x2="268.5" y2="620.3" stroke="#e0e0da" stroke-width="0.75"/>
<line x1="200.0" y1="572.0" x2="176.3" y2="648.8" stroke="#e0e0da" stroke-width="0.65"/>
<line x1="200.0" y1="572.0" x2="129.3" y2="661.3" stroke="#e0ead8" stroke-width="0.6"/>
<line x1="200.0" y1="572.0" x2="233.3" y2="663.0" stroke="#e6ccb6" stroke-width="0.65" stroke-dasharray="1.2,1"/>
<line x1="240.8" y1="580.0" x2="138.8" y2="580.8" stroke="#cde0c0" stroke-width="0.55"/>
<line x1="240.8" y1="580.0" x2="190.5" y2="598.3" stroke="#e8d2bc" stroke-width="0.55" stroke-dasharray="1.2,1"/>
<line x1="240.8" y1="580.0" x2="155.5" y2="620.5" stroke="#e0ead8" stroke-width="0.6"/>
<line x1="240.8" y1="580.0" x2="223.8" y2="618.8" stroke="#e0e0da" stroke-width="0.75"/>
<line x1="240.8" y1="580.0" x2="268.5" y2="620.3" stroke="#e4d6c8" stroke-width="0.75"/>
<line x1="240.8" y1="580.0" x2="327.7" y2="616.0" stroke="#d8e4d0" stroke-width="0.65"/>
<line x1="240.8" y1="580.0" x2="233.3" y2="663.0" stroke="#e4d6c8" stroke-width="0.75"/>
<line x1="138.8" y1="580.8" x2="122.0" y2="606.8" stroke="#e0e0da" stroke-width="0.65"/>
<line x1="138.8" y1="580.8" x2="82.0" y2="614.3" stroke="#d8e4d0" stroke-width="0.75"/>
<line x1="138.8" y1="580.8" x2="155.5" y2="620.5" stroke="#d8e4d0" stroke-width="0.55"/>
<line x1="138.8" y1="580.8" x2="78.0" y2="649.5" stroke="#e0e0da" stroke-width="0.55"/>
<line x1="138.8" y1="580.8" x2="129.3" y2="661.3" stroke="#e4d6c8" stroke-width="0.75"/>
<line x1="190.5" y1="598.3" x2="122.0" y2="606.8" stroke="#e4d6c8" stroke-width="0.55"/>
<line x1="190.5" y1="598.3" x2="155.5" y2="620.5" stroke="#e4d6c8" stroke-width="0.65"/>
<line x1="190.5" y1="598.3" x2="223.8" y2="618.8" stroke="#d8e4d0" stroke-width="0.65"/>
<line x1="190.5" y1="598.3" x2="268.5" y2="620.3" stroke="#e6e6e6" stroke-width="0.6"/>
<line x1="190.5" y1="598.3" x2="176.3" y2="648.8" stroke="#e4d6c8" stroke-width="0.75"/>
<line x1="190.5" y1="598.3" x2="129.3" y2="661.3" stroke="#e0e0da" stroke-width="0.55"/>
<line x1="190.5" y1="598.3" x2="233.3" y2="663.0" stroke="#e6ccb6" stroke-width="0.65" stroke-dasharray="1.2,1"/>
<line x1="122.0" y1="606.8" x2="82.0" y2="614.3" stroke="#e6ccb6" stroke-width="0.55" stroke-dasharray="1.2,1"/>
<line x1="122.0" y1="606.8" x2="155.5" y2="620.5" stroke="#e4d6c8" stroke-width="0.75"/>
<line x1="122.0" y1="606.8" x2="223.8" y2="618.8" stroke="#e6ccb6" stroke-width="0.75" stroke-dasharray="1.2,1"/>
<line x1="122.0" y1="606.8" x2="78.0" y2="649.5" stroke="#e4d6c8" stroke-width="0.75"/>
<line x1="122.0" y1="606.8" x2="129.3" y2="661.3" stroke="#d8e4d0" stroke-width="0.75"/>
<line x1="82.0" y1="614.3" x2="155.5" y2="620.5" stroke="#d8e4d0" stroke-width="0.75"/>
<line x1="82.0" y1="614.3" x2="78.0" y2="649.5" stroke="#d8e4d0" stroke-width="0.65"/>
<line x1="155.5" y1="620.5" x2="223.8" y2="618.8" stroke="#e4d6c8" stroke-width="0.65"/>
<line x1="155.5" y1="620.5" x2="78.0" y2="649.5" stroke="#e4d6c8" stroke-width="0.55"/>
<line x1="155.5" y1="620.5" x2="176.3" y2="648.8" stroke="#e0e0da" stroke-width="0.65"/>
<line x1="155.5" y1="620.5" x2="129.3" y2="661.3" stroke="#d8e4d0" stroke-width="0.55"/>
<line x1="155.5" y1="620.5" x2="233.3" y2="663.0" stroke="#e0e0da" stroke-width="0.75"/>
<line x1="223.8" y1="618.8" x2="268.5" y2="620.3" stroke="#d8e4d0" stroke-width="0.65"/>
<line x1="223.8" y1="618.8" x2="327.7" y2="616.0" stroke="#e0e0da" stroke-width="0.75"/>
<line x1="223.8" y1="618.8" x2="176.3" y2="648.8" stroke="#e4d6c8" stroke-width="0.55"/>
<line x1="223.8" y1="618.8" x2="129.3" y2="661.3" stroke="#e0e0da" stroke-width="0.65"/>
<line x1="223.8" y1="618.8" x2="233.3" y2="663.0" stroke="#e0e0da" stroke-width="0.65"/>
<line x1="268.5" y1="620.3" x2="327.7" y2="616.0" stroke="#d8e4d0" stroke-width="0.75"/>
<line x1="268.5" y1="620.3" x2="233.3" y2="663.0" stroke="#e2ecdc" stroke-width="0.6"/>
<line x1="78.0" y1="649.5" x2="176.3" y2="648.8" stroke="#e0e0da" stroke-width="0.75"/>
<line x1="78.0" y1="649.5" x2="129.3" y2="661.3" stroke="#e4d6c8" stroke-width="0.55"/>
<line x1="176.3" y1="648.8" x2="129.3" y2="661.3" stroke="#e4d6c8" stroke-width="0.55"/>
<line x1="176.3" y1="648.8" x2="233.3" y2="663.0" stroke="#e0e0da" stroke-width="0.75"/>
<line x1="13.8" y1="543.8" x2="67.0" y2="536.8" stroke="#e8b496" stroke-width="0.75" stroke-dasharray="1,1"/>
<line x1="67.0" y1="536.8" x2="120.0" y2="539.0" stroke="#e8b496" stroke-width="0.75" stroke-dasharray="1,1"/>
<line x1="13.8" y1="543.8" x2="120.0" y2="539.0" stroke="#e8b496" stroke-width="0.75" stroke-dasharray="1,1"/>
<line x1="117.5" y1="441.3" x2="67.0" y2="536.8" stroke="#e8b496" stroke-width="0.75" stroke-dasharray="1,1"/>
<line x1="265.0" y1="515.0" x2="266.3" y2="550.8" stroke="#e8b496" stroke-width="0.75" stroke-dasharray="1,1"/>
<line x1="60.0" y1="480.0" x2="67.0" y2="536.8" stroke="#e8b496" stroke-width="0.75" stroke-dasharray="1,1"/>
<line x1="173.6" y1="470.4" x2="266.3" y2="550.8" stroke="#c4835f" stroke-width="1.25"/>
<line x1="159.3" y1="517.0" x2="235.0" y2="505.8" stroke="#d49670" stroke-width="1.0"/>
<line x1="179.5" y1="537.0" x2="222.1" y2="542.7" stroke="#d49670" stroke-width="0.8"/>
<line x1="222.1" y1="542.7" x2="266.3" y2="550.8" stroke="#d09070" stroke-width="1.0"/>
<line x1="222.1" y1="542.7" x2="223.8" y2="618.8" stroke="#d08a60" stroke-width="1.0"/>
<line x1="204.8" y1="418.1" x2="243.8" y2="472.0" stroke="#d8a080" stroke-width="0.7"/>
<line x1="210.5" y1="474.2" x2="222.1" y2="542.7" stroke="#dca080" stroke-width="0.6"/>
<line x1="173.6" y1="470.4" x2="222.1" y2="542.7" stroke="#d8a080" stroke-width="0.6"/>
<line x1="159.3" y1="517.0" x2="179.5" y2="537.0" stroke="#d8a080" stroke-width="0.6"/>
<line x1="223.8" y1="618.8" x2="233.3" y2="663.0" stroke="#dcb496" stroke-width="0.6"/>
</g>
<circle cx="204.8" cy="418.1" r="10.90" fill="#fff" fill-opacity="0.8"/>
<circle cx="204.8" cy="418.1" r="10.20" fill="#7676cc"/>
<circle cx="204.8" cy="418.1" r="9.50" fill="#060695"/>
<circle cx="204.8" cy="418.1" r="6.00" fill="#0606a2" opacity="0.9"/>
<text x="204.50" y="405.72" font-size="8.2" text-anchor="middle" fill="#222" stroke="#222" >WISP-1</text>
<circle cx="117.5" cy="441.3" r="5.50" fill="#fff" fill-opacity="0.8"/>
<circle cx="117.5" cy="441.3" r="4.80" fill="#e6aaaa"/>
<circle cx="117.5" cy="441.3" r="4.10" fill="#c15c5c"/>
<circle cx="117.5" cy="441.3" r="2.76" fill="#d26464" opacity="0.9"/>
<text x="117.50" y="433.62" font-size="8.2" text-anchor="middle" fill="#222" stroke="#222" >TMEM132A</text>
<circle cx="60.0" cy="480.0" r="5.30" fill="#fff" fill-opacity="0.8"/>
<circle cx="60.0" cy="480.0" r="4.60" fill="#aeaee6"/>
<circle cx="60.0" cy="480.0" r="3.90" fill="#6363c1"/>
<circle cx="60.0" cy="480.0" r="2.64" fill="#6c6cd2" opacity="0.9"/>
<text x="60.00" y="473.32" font-size="8.2" text-anchor="middle" fill="#222" stroke="#222" >Sec14L2</text>
<circle cx="173.6" cy="470.4" r="5.10" fill="#f1d0d0" stroke="#1c1c1c" stroke-width="1.0"/>
<circle cx="173.6" cy="470.4" r="3.45" fill="#d98484"/>
<text x="172.20" y="454.12" font-size="8.2" text-anchor="middle" fill="#222" stroke="#222" >Thrombo-</text>
<text x="172.20" y="462.72" font-size="8.2" text-anchor="middle" fill="#222" stroke="#222" >spondin-1</text>
<circle cx="210.5" cy="474.2" r="6.50" fill="#a0a0dc" stroke="#1c1c1c" stroke-width="1.0"/>
<circle cx="210.5" cy="474.2" r="4.85" fill="#0606a2"/>
<text x="210.60" y="457.32" font-size="8.2" text-anchor="middle" fill="#222" stroke="#222" >Collagen</text>
<text x="210.60" y="465.42" font-size="8.2" text-anchor="middle" fill="#222" stroke="#222" >type III</text>
<circle cx="243.8" cy="472.0" r="5.30" fill="#d3d3f0" stroke="#1c1c1c" stroke-width="1.0"/>
<circle cx="243.8" cy="472.0" r="3.65" fill="#8a8ad8"/>
<text x="244.00" y="464.82" font-size="8.2" text-anchor="middle" fill="#222" stroke="#222" >Decorin</text>
<circle cx="318.5" cy="485.4" r="10.80" fill="#a0a0e1" stroke="#1c1c1c" stroke-width="1.0"/>
<circle cx="318.5" cy="485.4" r="9.15" fill="#0505b0"/>
<text x="318.30" y="472.82" font-size="8.2" text-anchor="middle" fill="#222" stroke="#222" >Angiopoietin-1</text>
<circle cx="140.8" cy="487.0" r="5.90" fill="#fff" fill-opacity="0.8"/>
<circle cx="140.8" cy="487.0" r="5.20" fill="#7c7cd0"/>
<circle cx="140.8" cy="487.0" r="4.50" fill="#0f0f9c"/>
<circle cx="140.8" cy="487.0" r="3.00" fill="#1010aa" opacity="0.9"/>
<text x="139.40" y="479.12" font-size="8.2" text-anchor="middle" fill="#222" stroke="#222" >NBL1</text>
<circle cx="112.5" cy="500.0" r="6.50" fill="#fff" fill-opacity="0.8"/>
<circle cx="112.5" cy="500.0" r="5.80" fill="#cc7979"/>
<circle cx="112.5" cy="500.0" r="5.10" fill="#960b0b"/>
<circle cx="112.5" cy="500.0" r="3.36" fill="#a30c0c" opacity="0.9"/>
<text x="112.50" y="491.82" font-size="8.2" text-anchor="middle" fill="#222" stroke="#222" >FAT1</text>
<circle cx="196.3" cy="507.5" r="6.30" fill="#a0a0dc" stroke="#1c1c1c" stroke-width="1.0"/>
<circle cx="196.3" cy="507.5" r="4.65" fill="#0606a2"/>
<text x="196.00" y="499.12" font-size="8.2" text-anchor="middle" fill="#222" stroke="#222" >CTGF</text>
<circle cx="235.0" cy="505.8" r="6.50" fill="#fff" fill-opacity="0.8"/>
<circle cx="235.0" cy="505.8" r="5.80" fill="#dd8d8d"/>
<circle cx="235.0" cy="505.8" r="5.10" fill="#b22c2c"/>
<circle cx="235.0" cy="505.8" r="3.36" fill="#c23030" opacity="0.9"/>
<text x="235.30" y="496.62" font-size="8.2" text-anchor="middle" fill="#222" stroke="#222" >Integrin β1</text>
<circle cx="265.0" cy="515.0" r="5.50" fill="#fff" fill-opacity="0.8"/>
<circle cx="265.0" cy="515.0" r="4.80" fill="#cd7676"/>
<circle cx="265.0" cy="515.0" r="4.10" fill="#970606"/>
<circle cx="265.0" cy="515.0" r="2.76" fill="#a40606" opacity="0.9"/>
<text x="268.00" y="508.32" font-size="8.2" text-anchor="middle" fill="#222" stroke="#222" >Photomedin-2</text>
<circle cx="159.3" cy="517.0" r="5.30" fill="#d3d3f0" stroke="#1c1c1c" stroke-width="1.0"/>
<circle cx="159.3" cy="517.0" r="3.65" fill="#8a8ad8"/>
<text x="158.50" y="509.62" font-size="8.2" text-anchor="middle" fill="#222" stroke="#222" >Galectin-1</text>
<circle cx="67.0" cy="536.8" r="5.90" fill="#fff" fill-opacity="0.8"/>
<circle cx="67.0" cy="536.8" r="5.20" fill="#d47c7c"/>
<circle cx="67.0" cy="536.8" r="4.50" fill="#a20f0f"/>
<circle cx="67.0" cy="536.8" r="3.00" fill="#b01010" opacity="0.9"/>
<text x="67.00" y="529.12" font-size="8.2" text-anchor="middle" fill="#222" stroke="#222" >Cholinesterase</text>
<circle cx="120.0" cy="539.0" r="10.50" fill="#fff" fill-opacity="0.8"/>
<circle cx="120.0" cy="539.0" r="9.80" fill="#d47575"/>
<circle cx="120.0" cy="539.0" r="9.10" fill="#a20404"/>
<circle cx="120.0" cy="539.0" r="5.76" fill="#b00404" opacity="0.9"/>
<text x="120.00" y="525.32" font-size="8.2" text-anchor="middle" fill="#222" stroke="#222" >PAI-1</text>
<circle cx="222.1" cy="542.7" r="10.60" fill="#e1a0a0" stroke="#1c1c1c" stroke-width="1.0"/>
<circle cx="222.1" cy="542.7" r="8.95" fill="#b00404"/>
<text x="221.90" y="529.82" font-size="8.2" text-anchor="middle" fill="#222" stroke="#222" >Tenascin-C</text>
<circle cx="179.5" cy="537.0" r="5.90" fill="#fff" fill-opacity="0.8"/>
<circle cx="179.5" cy="537.0" r="5.20" fill="#e19b9b"/>
<circle cx="179.5" cy="537.0" r="4.50" fill="#b84444"/>
<circle cx="179.5" cy="537.0" r="3.00" fill="#c84a4a" opacity="0.9"/>
<text x="179.40" y="551.12" font-size="8.2" text-anchor="middle" fill="#222" stroke="#222" >Neuropilin-1</text>
<circle cx="266.3" cy="550.8" r="6.30" fill="#e8aaaa" stroke="#1c1c1c" stroke-width="1.0"/>
<circle cx="266.3" cy="550.8" r="4.65" fill="#c21e1e"/>
<text x="267.50" y="565.32" font-size="8.2" text-anchor="middle" fill="#222" stroke="#222" >VEGF-A</text>
<circle cx="13.8" cy="543.8" r="5.70" fill="#fff" fill-opacity="0.8"/>
<circle cx="13.8" cy="543.8" r="5.00" fill="#b0b0e6"/>
<circle cx="13.8" cy="543.8" r="4.30" fill="#6767c1"/>
<circle cx="13.8" cy="543.8" r="2.88" fill="#7070d2" opacity="0.9"/>
<text x="13.50" y="557.12" font-size="8.2" text-anchor="middle" fill="#222" stroke="#222" >MAT2B</text>
<circle cx="162.5" cy="560.8" r="5.90" fill="#fff" fill-opacity="0.8"/>
<circle cx="162.5" cy="560.8" r="5.20" fill="#7c7cd4"/>
<circle cx="162.5" cy="560.8" r="4.50" fill="#0f0fa2"/>
<circle cx="162.5" cy="560.8" r="3.00" fill="#1010b0" opacity="0.9"/>
<text x="163.00" y="574.82" font-size="8.2" text-anchor="middle" fill="#222" stroke="#222" >Serpin H1</text>
<circle cx="93.8" cy="571.8" r="6.50" fill="#fff" fill-opacity="0.8"/>
<circle cx="93.8" cy="571.8" r="5.80" fill="#7878cc"/>
<circle cx="93.8" cy="571.8" r="5.10" fill="#090995"/>
<circle cx="93.8" cy="571.8" r="3.36" fill="#0a0aa2" opacity="0.9"/>
<text x="94.00" y="586.62" font-size="8.2" text-anchor="middle" fill="#222" stroke="#222" >TRIP-10</text>
<circle cx="200.0" cy="572.0" r="6.50" fill="#fff" fill-opacity="0.8"/>
<circle cx="200.0" cy="572.0" r="5.80" fill="#dd8e8e"/>
<circle cx="200.0" cy="572.0" r="5.10" fill="#b22e2e"/>
<circle cx="200.0" cy="572.0" r="3.36" fill="#c23232" opacity="0.9"/>
<text x="200.60" y="585.82" font-size="8.2" text-anchor="middle" fill="#222" stroke="#222" >TIP-1</text>
<circle cx="240.8" cy="580.0" r="5.80" fill="#eac0c0" stroke="#1c1c1c" stroke-width="1.0"/>
<circle cx="240.8" cy="580.0" r="4.15" fill="#c85a5a"/>
<text x="240.90" y="594.12" font-size="8.2" text-anchor="middle" fill="#222" stroke="#222" >Osteopontin</text>
<circle cx="138.8" cy="580.8" r="5.80" fill="#eac3c3" stroke="#1c1c1c" stroke-width="1.0"/>
<circle cx="138.8" cy="580.8" r="4.15" fill="#c86262"/>
<text x="139.60" y="595.82" font-size="8.2" text-anchor="middle" fill="#222" stroke="#222" >Complement</text>
<text x="139.60" y="603.32" font-size="8.2" text-anchor="middle" fill="#222" stroke="#222" >C3</text>
<circle cx="190.5" cy="598.3" r="5.80" fill="#eac3c3" stroke="#1c1c1c" stroke-width="1.0"/>
<circle cx="190.5" cy="598.3" r="4.15" fill="#c86262"/>
<text x="190.60" y="611.62" font-size="8.2" text-anchor="middle" fill="#222" stroke="#222" >ADAM 9</text>
<circle cx="122.0" cy="606.8" r="5.90" fill="#fff" fill-opacity="0.8"/>
<circle cx="122.0" cy="606.8" r="5.20" fill="#e5b1b1"/>
<circle cx="122.0" cy="606.8" r="4.50" fill="#bf6969"/>
<circle cx="122.0" cy="606.8" r="3.00" fill="#d07272" opacity="0.9"/>
<text x="122.00" y="620.32" font-size="8.2" text-anchor="middle" fill="#222" stroke="#222" >ITM2B</text>
<circle cx="82.0" cy="614.3" r="5.00" fill="#fff" fill-opacity="0.8"/>
<circle cx="82.0" cy="614.3" r="4.30" fill="#7c7ccc"/>
<circle cx="82.0" cy="614.3" r="3.60" fill="#0f0f95"/>
<circle cx="82.0" cy="614.3" r="2.46" fill="#1010a2" opacity="0.9"/>
<text x="82.00" y="626.62" font-size="8.2" text-anchor="middle" fill="#222" stroke="#222" >Antithrombin-III</text>
<circle cx="155.5" cy="620.5" r="5.50" fill="#edd0d0" stroke="#1c1c1c" stroke-width="1.0"/>
<circle cx="155.5" cy="620.5" r="3.85" fill="#d08282"/>
<text x="155.60" y="632.82" font-size="8.2" text-anchor="middle" fill="#222" stroke="#222" >Legumain</text>
<circle cx="223.8" cy="618.8" r="6.20" fill="#fff" fill-opacity="0.8"/>
<circle cx="223.8" cy="618.8" r="5.50" fill="#a4a4e6"/>
<circle cx="223.8" cy="618.8" r="4.80" fill="#5353c1"/>
<circle cx="223.8" cy="618.8" r="3.18" fill="#5a5ad2" opacity="0.9"/>
<text x="223.60" y="633.82" font-size="8.2" text-anchor="middle" fill="#222" stroke="#222" >CAND1</text>
<circle cx="268.5" cy="620.3" r="6.20" fill="#fff" fill-opacity="0.8"/>
<circle cx="268.5" cy="620.3" r="5.50" fill="#7c7cd0"/>
<circle cx="268.5" cy="620.3" r="4.80" fill="#0f0f9c"/>
<circle cx="268.5" cy="620.3" r="3.18" fill="#1010aa" opacity="0.9"/>
<text x="268.80" y="635.52" font-size="8.2" text-anchor="middle" fill="#222" stroke="#222" >Ephrin-A1</text>
<circle cx="327.7" cy="616.0" r="6.80" fill="#fff" fill-opacity="0.8"/>
<circle cx="327.7" cy="616.0" r="6.10" fill="#7c7cd0"/>
<circle cx="327.7" cy="616.0" r="5.40" fill="#0f0f9c"/>
<circle cx="327.7" cy="616.0" r="3.54" fill="#1010aa" opacity="0.9"/>
<text x="327.70" y="631.82" font-size="8.2" text-anchor="middle" fill="#222" stroke="#222" >SH3BGRL2</text>
<circle cx="78.0" cy="649.5" r="6.50" fill="#fff" fill-opacity="0.8"/>
<circle cx="78.0" cy="649.5" r="5.80" fill="#d68181"/>
<circle cx="78.0" cy="649.5" r="5.10" fill="#a61818"/>
<circle cx="78.0" cy="649.5" r="3.36" fill="#b41a1a" opacity="0.9"/>
<text x="77.80" y="662.82" font-size="8.2" text-anchor="middle" fill="#222" stroke="#222" >Fascin</text>
<circle cx="176.3" cy="648.8" r="6.50" fill="#fff" fill-opacity="0.8"/>
<circle cx="176.3" cy="648.8" r="5.80" fill="#cd7676"/>
<circle cx="176.3" cy="648.8" r="5.10" fill="#970606"/>
<circle cx="176.3" cy="648.8" r="3.36" fill="#a40606" opacity="0.9"/>
<text x="176.50" y="661.62" font-size="8.2" text-anchor="middle" fill="#222" stroke="#222" >Neuroserpin</text>
<circle cx="129.3" cy="661.3" r="6.90" fill="#fff" fill-opacity="0.8"/>
<circle cx="129.3" cy="661.3" r="6.20" fill="#df8a8a"/>
<circle cx="129.3" cy="661.3" r="5.50" fill="#b42727"/>
<circle cx="129.3" cy="661.3" r="3.60" fill="#c42a2a" opacity="0.9"/>
<text x="130.00" y="674.82" font-size="8.2" text-anchor="middle" fill="#222" stroke="#222" >Serpin A3G</text>
<circle cx="233.3" cy="663.0" r="5.40" fill="#eab7b7" stroke="#1c1c1c" stroke-width="1.0"/>
<circle cx="233.3" cy="663.0" r="3.75" fill="#c84242"/>
<text x="233.50" y="677.32" font-size="8.2" text-anchor="middle" fill="#222" stroke="#222" >ADAM 17</text>
<circle cx="375.4" cy="415.1" r="5.2" fill="#fff" stroke="#b8b8b8" stroke-width="0.8"/>
<circle cx="447.6" cy="409.2" r="10.8" fill="#fff" stroke="#b8b8b8" stroke-width="0.8"/>
<path d="M383.5,419.8 L433.7,412.7 L433.7,419.8 Z" fill="#000"/>
<text x="407.70" y="407.82" font-size="8.2" text-anchor="middle" fill="#222" stroke="#222" ><tspan font-style="italic">Q</tspan></text>
<text x="383.40" y="428.52" font-size="8.2" text-anchor="middle" fill="#222" stroke="#222" >0.05</text>
<text x="433.00" y="428.52" font-size="8.2" text-anchor="middle" fill="#222" stroke="#222" >≤0.0001</text>
<text x="408" y="448.22" font-size="8.2" text-anchor="middle" fill="#222" stroke="#222">Log<tspan font-size="5" dy="1.6">2</tspan><tspan dy="-1.6"> (WT/null)</tspan></text>
<rect x="383.5" y="452.6" width="50.2" height="4.6" fill="url(#gL)" stroke="#333" stroke-width="0.4"/>
<line x1="408.6" y1="457.2" x2="408.6" y2="458.6" stroke="#333" stroke-width="0.5"/>
<text x="384.00" y="465.62" font-size="8.2" text-anchor="middle" fill="#222" stroke="#222" >≤–3</text>
<text x="408.60" y="465.62" font-size="8.2" text-anchor="middle" fill="#222" stroke="#222" >0</text>
<text x="432.60" y="465.62" font-size="8.2" text-anchor="middle" fill="#222" stroke="#222" >≥3</text>
<circle cx="371.7" cy="484.6" r="5.2" fill="#fff" stroke="#b0b0b0" stroke-width="0.9"/>
<circle cx="371.7" cy="500.0" r="5.6" fill="#fff" stroke="#111" stroke-width="1.2"/>
<text x="381.00" y="487.52" font-size="8.2" text-anchor="start" fill="#222" stroke="#222" >Metastasis</text>
<text x="381.00" y="502.92" font-size="8.2" text-anchor="start" fill="#222" stroke="#222" >Integrin ligand</text>
<text x="407.50" y="528.22" font-size="8.2" text-anchor="middle" fill="#222" stroke="#222" >Normalized</text>
<text x="407.80" y="536.82" font-size="8.2" text-anchor="middle" fill="#222" stroke="#222" >weight</text>
<path d="M384,546 L433.8,539.2 L433.8,546 Z" fill="#000"/>
<line x1="367.7" y1="545.4" x2="377" y2="542.6" stroke="#d4d4d4" stroke-width="0.7"/>
<line x1="438.5" y1="545.4" x2="449.2" y2="540.8" stroke="#c8c8c8" stroke-width="1.6"/>
<text x="383.80" y="554.32" font-size="8.2" text-anchor="middle" fill="#222" stroke="#222" >≤0.0001</text>
<text x="433.00" y="554.32" font-size="8.2" text-anchor="middle" fill="#222" stroke="#222" >0.01</text>
<line x1="368" y1="572.8" x2="378" y2="569.8" stroke="#c88c78" stroke-width="0.9"/>
<text x="381.30" y="573.82" font-size="8.2" text-anchor="start" fill="#222" stroke="#222" >Physical interaction</text>
<line x1="368" y1="582.3" x2="378" y2="579.3" stroke="#a89890" stroke-width="0.9"/>
<text x="381.30" y="583.28" font-size="8.2" text-anchor="start" fill="#222" stroke="#222" >Genetic interaction</text>
<line x1="368" y1="591.7" x2="378" y2="588.7" stroke="#d8d0dc" stroke-width="0.9"/>
<text x="381.30" y="592.74" font-size="8.2" text-anchor="start" fill="#222" stroke="#222" >Coexpression</text>
<line x1="368" y1="601.2" x2="378" y2="598.2" stroke="#c8d8ec" stroke-width="0.9"/>
<text x="381.30" y="602.20" font-size="8.2" text-anchor="start" fill="#222" stroke="#222" >Colocalization</text>
<line x1="368" y1="610.6" x2="378" y2="607.6" stroke="#e4e8b8" stroke-width="0.9"/>
<text x="381.30" y="611.66" font-size="8.2" text-anchor="start" fill="#222" stroke="#222" >Pathway</text>
<line x1="368" y1="620.1" x2="378" y2="617.1" stroke="#e4e0f0" stroke-width="0.9"/>
<text x="381.30" y="621.12" font-size="8.2" text-anchor="start" fill="#222" stroke="#222" >Shared protein domain</text>
</svg>
</body></html>
